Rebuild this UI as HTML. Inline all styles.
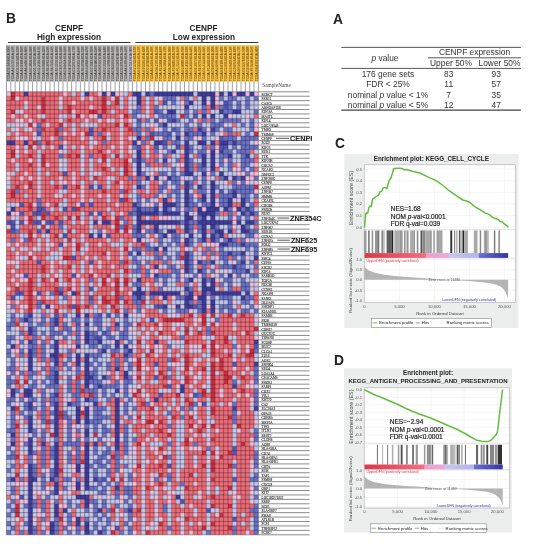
<!DOCTYPE html><html><head><meta charset="utf-8"><style>html,body{margin:0;padding:0;background:#fff;width:536px;height:550px;overflow:hidden}svg{display:block}</style></head><body>
<svg width="536" height="550" viewBox="0 0 536 550">
<defs><clipPath id="cl1"><rect x="0" y="0" width="312" height="550"/></clipPath><filter id="hb" x="-1%" y="-1%" width="102%" height="102%"><feGaussianBlur stdDeviation="0.35"/></filter><filter id="gb" x="0" y="0" width="100%" height="100%"><feGaussianBlur stdDeviation="0.4"/></filter></defs>
<g filter="url(#gb)">
<rect width="536" height="550" fill="#fff"/>
<text x="6" y="23" font-family="Liberation Sans, sans-serif" font-weight="bold" fill="#222" font-size="13.8">B</text>
<text x="69" y="30.6" font-family="Liberation Sans, sans-serif" font-weight="bold" fill="#222" font-size="8.25" text-anchor="middle">CENPF</text>
<text x="69" y="39.9" font-family="Liberation Sans, sans-serif" font-weight="bold" fill="#222" font-size="8.25" text-anchor="middle">High expression</text>
<text x="203.6" y="30.6" font-family="Liberation Sans, sans-serif" font-weight="bold" fill="#222" font-size="8.25" text-anchor="middle">CENPF</text>
<text x="204" y="39.9" font-family="Liberation Sans, sans-serif" font-weight="bold" fill="#222" font-size="8.25" text-anchor="middle">Low expression</text>
<path d="M8 42.5H130.4M135.4 42.5H258.4" stroke="#333" stroke-width="1"/>
<rect x="6.5" y="45.2" width="125.95" height="36.4" fill="#a6a6a6"/>
<rect x="132.45" y="45.2" width="125.95" height="36.4" fill="#f0b630"/>
<rect x="128.10" y="45.2" width="4.34" height="36.4" fill="#b4b0c8"/>
<g font-family="Liberation Sans, sans-serif" font-size="3.9"><text transform="translate(10.02 81.0) rotate(-90)" fill="#363636" textLength="34.5" lengthAdjust="spacingAndGlyphs">TCGA-D3-7468-01A-93R</text><text transform="translate(14.36 81.0) rotate(-90)" fill="#363636" textLength="34.5" lengthAdjust="spacingAndGlyphs">TCGA-A2-9779-01A-22R</text><text transform="translate(18.71 81.0) rotate(-90)" fill="#363636" textLength="34.5" lengthAdjust="spacingAndGlyphs">TCGA-D1-9313-01A-37R</text><text transform="translate(23.05 81.0) rotate(-90)" fill="#363636" textLength="34.5" lengthAdjust="spacingAndGlyphs">TCGA-A2-8104-01A-63R</text><text transform="translate(27.39 81.0) rotate(-90)" fill="#363636" textLength="34.5" lengthAdjust="spacingAndGlyphs">TCGA-A4-2486-01A-80R</text><text transform="translate(31.74 81.0) rotate(-90)" fill="#363636" textLength="34.5" lengthAdjust="spacingAndGlyphs">TCGA-E1-3028-01A-38R</text><text transform="translate(36.08 81.0) rotate(-90)" fill="#363636" textLength="34.5" lengthAdjust="spacingAndGlyphs">TCGA-G1-7499-01A-16R</text><text transform="translate(40.42 81.0) rotate(-90)" fill="#363636" textLength="34.5" lengthAdjust="spacingAndGlyphs">TCGA-C1-3181-01A-47R</text><text transform="translate(44.77 81.0) rotate(-90)" fill="#363636" textLength="34.5" lengthAdjust="spacingAndGlyphs">TCGA-E3-9858-01A-25R</text><text transform="translate(49.11 81.0) rotate(-90)" fill="#363636" textLength="34.5" lengthAdjust="spacingAndGlyphs">TCGA-F5-3961-01A-23R</text><text transform="translate(53.45 81.0) rotate(-90)" fill="#363636" textLength="34.5" lengthAdjust="spacingAndGlyphs">TCGA-F4-7101-01A-22R</text><text transform="translate(57.79 81.0) rotate(-90)" fill="#363636" textLength="34.5" lengthAdjust="spacingAndGlyphs">TCGA-F2-1976-01A-89R</text><text transform="translate(62.14 81.0) rotate(-90)" fill="#363636" textLength="34.5" lengthAdjust="spacingAndGlyphs">TCGA-C8-9711-01A-64R</text><text transform="translate(66.48 81.0) rotate(-90)" fill="#363636" textLength="34.5" lengthAdjust="spacingAndGlyphs">TCGA-D8-8424-01A-56R</text><text transform="translate(70.82 81.0) rotate(-90)" fill="#363636" textLength="34.5" lengthAdjust="spacingAndGlyphs">TCGA-D4-3945-01A-99R</text><text transform="translate(75.17 81.0) rotate(-90)" fill="#363636" textLength="34.5" lengthAdjust="spacingAndGlyphs">TCGA-C2-5919-01A-77R</text><text transform="translate(79.51 81.0) rotate(-90)" fill="#363636" textLength="34.5" lengthAdjust="spacingAndGlyphs">TCGA-E6-8353-01A-46R</text><text transform="translate(83.85 81.0) rotate(-90)" fill="#363636" textLength="34.5" lengthAdjust="spacingAndGlyphs">TCGA-F2-2934-01A-75R</text><text transform="translate(88.20 81.0) rotate(-90)" fill="#363636" textLength="34.5" lengthAdjust="spacingAndGlyphs">TCGA-E3-6604-01A-29R</text><text transform="translate(92.54 81.0) rotate(-90)" fill="#363636" textLength="34.5" lengthAdjust="spacingAndGlyphs">TCGA-E7-1642-01A-95R</text><text transform="translate(96.88 81.0) rotate(-90)" fill="#363636" textLength="34.5" lengthAdjust="spacingAndGlyphs">TCGA-A9-6140-01A-53R</text><text transform="translate(101.22 81.0) rotate(-90)" fill="#363636" textLength="34.5" lengthAdjust="spacingAndGlyphs">TCGA-G6-9137-01A-84R</text><text transform="translate(105.57 81.0) rotate(-90)" fill="#363636" textLength="34.5" lengthAdjust="spacingAndGlyphs">TCGA-E2-2533-01A-44R</text><text transform="translate(109.91 81.0) rotate(-90)" fill="#363636" textLength="34.5" lengthAdjust="spacingAndGlyphs">TCGA-E2-1994-01A-99R</text><text transform="translate(114.25 81.0) rotate(-90)" fill="#363636" textLength="34.5" lengthAdjust="spacingAndGlyphs">TCGA-D8-5662-01A-59R</text><text transform="translate(118.60 81.0) rotate(-90)" fill="#363636" textLength="34.5" lengthAdjust="spacingAndGlyphs">TCGA-G6-1369-01A-69R</text><text transform="translate(122.94 81.0) rotate(-90)" fill="#363636" textLength="34.5" lengthAdjust="spacingAndGlyphs">TCGA-D3-2918-01A-73R</text><text transform="translate(127.28 81.0) rotate(-90)" fill="#363636" textLength="34.5" lengthAdjust="spacingAndGlyphs">TCGA-A4-5709-01A-26R</text><text transform="translate(131.63 81.0) rotate(-90)" fill="#363636" textLength="34.5" lengthAdjust="spacingAndGlyphs">TCGA-G4-7519-01A-60R</text><text transform="translate(135.97 81.0) rotate(-90)" fill="#5a3c08" textLength="34.5" lengthAdjust="spacingAndGlyphs">TCGA-E2-3725-01A-67R</text><text transform="translate(140.31 81.0) rotate(-90)" fill="#5a3c08" textLength="34.5" lengthAdjust="spacingAndGlyphs">TCGA-E9-5552-01A-27R</text><text transform="translate(144.65 81.0) rotate(-90)" fill="#5a3c08" textLength="34.5" lengthAdjust="spacingAndGlyphs">TCGA-E9-5561-01A-63R</text><text transform="translate(149.00 81.0) rotate(-90)" fill="#5a3c08" textLength="34.5" lengthAdjust="spacingAndGlyphs">TCGA-D7-4780-01A-29R</text><text transform="translate(153.34 81.0) rotate(-90)" fill="#5a3c08" textLength="34.5" lengthAdjust="spacingAndGlyphs">TCGA-A3-3478-01A-39R</text><text transform="translate(157.68 81.0) rotate(-90)" fill="#5a3c08" textLength="34.5" lengthAdjust="spacingAndGlyphs">TCGA-G4-1197-01A-72R</text><text transform="translate(162.03 81.0) rotate(-90)" fill="#5a3c08" textLength="34.5" lengthAdjust="spacingAndGlyphs">TCGA-F3-5304-01A-46R</text><text transform="translate(166.37 81.0) rotate(-90)" fill="#5a3c08" textLength="34.5" lengthAdjust="spacingAndGlyphs">TCGA-A3-7864-01A-78R</text><text transform="translate(170.71 81.0) rotate(-90)" fill="#5a3c08" textLength="34.5" lengthAdjust="spacingAndGlyphs">TCGA-D6-3056-01A-98R</text><text transform="translate(175.06 81.0) rotate(-90)" fill="#5a3c08" textLength="34.5" lengthAdjust="spacingAndGlyphs">TCGA-F1-8481-01A-97R</text><text transform="translate(179.40 81.0) rotate(-90)" fill="#5a3c08" textLength="34.5" lengthAdjust="spacingAndGlyphs">TCGA-F7-7521-01A-61R</text><text transform="translate(183.74 81.0) rotate(-90)" fill="#5a3c08" textLength="34.5" lengthAdjust="spacingAndGlyphs">TCGA-E2-8889-01A-91R</text><text transform="translate(188.08 81.0) rotate(-90)" fill="#5a3c08" textLength="34.5" lengthAdjust="spacingAndGlyphs">TCGA-E1-4122-01A-18R</text><text transform="translate(192.43 81.0) rotate(-90)" fill="#5a3c08" textLength="34.5" lengthAdjust="spacingAndGlyphs">TCGA-C8-3659-01A-24R</text><text transform="translate(196.77 81.0) rotate(-90)" fill="#5a3c08" textLength="34.5" lengthAdjust="spacingAndGlyphs">TCGA-D1-2677-01A-10R</text><text transform="translate(201.11 81.0) rotate(-90)" fill="#5a3c08" textLength="34.5" lengthAdjust="spacingAndGlyphs">TCGA-F3-9791-01A-22R</text><text transform="translate(205.46 81.0) rotate(-90)" fill="#5a3c08" textLength="34.5" lengthAdjust="spacingAndGlyphs">TCGA-D1-2152-01A-36R</text><text transform="translate(209.80 81.0) rotate(-90)" fill="#5a3c08" textLength="34.5" lengthAdjust="spacingAndGlyphs">TCGA-F7-3433-01A-91R</text><text transform="translate(214.14 81.0) rotate(-90)" fill="#5a3c08" textLength="34.5" lengthAdjust="spacingAndGlyphs">TCGA-D6-6966-01A-70R</text><text transform="translate(218.49 81.0) rotate(-90)" fill="#5a3c08" textLength="34.5" lengthAdjust="spacingAndGlyphs">TCGA-A2-8996-01A-69R</text><text transform="translate(222.83 81.0) rotate(-90)" fill="#5a3c08" textLength="34.5" lengthAdjust="spacingAndGlyphs">TCGA-E8-6109-01A-20R</text><text transform="translate(227.17 81.0) rotate(-90)" fill="#5a3c08" textLength="34.5" lengthAdjust="spacingAndGlyphs">TCGA-C2-6613-01A-43R</text><text transform="translate(231.51 81.0) rotate(-90)" fill="#5a3c08" textLength="34.5" lengthAdjust="spacingAndGlyphs">TCGA-E3-9459-01A-12R</text><text transform="translate(235.86 81.0) rotate(-90)" fill="#5a3c08" textLength="34.5" lengthAdjust="spacingAndGlyphs">TCGA-C9-6926-01A-28R</text><text transform="translate(240.20 81.0) rotate(-90)" fill="#5a3c08" textLength="34.5" lengthAdjust="spacingAndGlyphs">TCGA-G9-1443-01A-77R</text><text transform="translate(244.54 81.0) rotate(-90)" fill="#5a3c08" textLength="34.5" lengthAdjust="spacingAndGlyphs">TCGA-D2-5278-01A-76R</text><text transform="translate(248.89 81.0) rotate(-90)" fill="#5a3c08" textLength="34.5" lengthAdjust="spacingAndGlyphs">TCGA-D3-6827-01A-38R</text><text transform="translate(253.23 81.0) rotate(-90)" fill="#5a3c08" textLength="34.5" lengthAdjust="spacingAndGlyphs">TCGA-F9-9236-01A-52R</text><text transform="translate(257.57 81.0) rotate(-90)" fill="#5a3c08" textLength="34.5" lengthAdjust="spacingAndGlyphs">TCGA-G4-4197-01A-40R</text></g>
<path d="M10.84 45.2V81.6M15.19 45.2V81.6M19.53 45.2V81.6M23.87 45.2V81.6M28.21 45.2V81.6M32.56 45.2V81.6M36.90 45.2V81.6M41.24 45.2V81.6M45.59 45.2V81.6M49.93 45.2V81.6M54.27 45.2V81.6M58.62 45.2V81.6M62.96 45.2V81.6M67.30 45.2V81.6M71.64 45.2V81.6M75.99 45.2V81.6M80.33 45.2V81.6M84.67 45.2V81.6M89.02 45.2V81.6M93.36 45.2V81.6M97.70 45.2V81.6M102.05 45.2V81.6M106.39 45.2V81.6M110.73 45.2V81.6M115.08 45.2V81.6M119.42 45.2V81.6M123.76 45.2V81.6M128.10 45.2V81.6M132.45 45.2V81.6M136.79 45.2V81.6M141.13 45.2V81.6M145.48 45.2V81.6M149.82 45.2V81.6M154.16 45.2V81.6M158.50 45.2V81.6M162.85 45.2V81.6M167.19 45.2V81.6M171.53 45.2V81.6M175.88 45.2V81.6M180.22 45.2V81.6M184.56 45.2V81.6M188.91 45.2V81.6M193.25 45.2V81.6M197.59 45.2V81.6M201.94 45.2V81.6M206.28 45.2V81.6M210.62 45.2V81.6M214.96 45.2V81.6M219.31 45.2V81.6M223.65 45.2V81.6M227.99 45.2V81.6M232.34 45.2V81.6M236.68 45.2V81.6M241.02 45.2V81.6M245.37 45.2V81.6M249.71 45.2V81.6M254.05 45.2V81.6" stroke="#f4efe6" stroke-opacity=".75" stroke-width=".6" fill="none"/>
<path d="M6.50 81.6V91.8M10.84 81.6V91.8M15.19 81.6V91.8M19.53 81.6V91.8M23.87 81.6V91.8M28.21 81.6V91.8M32.56 81.6V91.8M36.90 81.6V91.8M41.24 81.6V91.8M45.59 81.6V91.8M49.93 81.6V91.8M54.27 81.6V91.8M58.62 81.6V91.8M62.96 81.6V91.8M67.30 81.6V91.8M71.64 81.6V91.8M75.99 81.6V91.8M80.33 81.6V91.8M84.67 81.6V91.8M89.02 81.6V91.8M93.36 81.6V91.8M97.70 81.6V91.8M102.05 81.6V91.8M106.39 81.6V91.8M110.73 81.6V91.8M115.08 81.6V91.8M119.42 81.6V91.8M123.76 81.6V91.8M128.10 81.6V91.8M132.45 81.6V91.8M136.79 81.6V91.8M141.13 81.6V91.8M145.48 81.6V91.8M149.82 81.6V91.8M154.16 81.6V91.8M158.50 81.6V91.8M162.85 81.6V91.8M167.19 81.6V91.8M171.53 81.6V91.8M175.88 81.6V91.8M180.22 81.6V91.8M184.56 81.6V91.8M188.91 81.6V91.8M193.25 81.6V91.8M197.59 81.6V91.8M201.94 81.6V91.8M206.28 81.6V91.8M210.62 81.6V91.8M214.96 81.6V91.8M219.31 81.6V91.8M223.65 81.6V91.8M227.99 81.6V91.8M232.34 81.6V91.8M236.68 81.6V91.8M241.02 81.6V91.8M245.37 81.6V91.8M249.71 81.6V91.8M254.05 81.6V91.8M258.39 81.6V91.8" stroke="#8a8a8a" stroke-width=".8" fill="none"/>
<path d="M6.5 45.2V81.6M258.39 45.2V81.6" stroke="#777" stroke-width=".6"/>
<g filter="url(#hb)">
<g transform="translate(6.5 91.8) scale(4.3430 4.4300)">
<path fill="#d42a3a" d="M1 0h1v1h-1zM1 1h1v1h-1zM8 1h1v1h-1zM22 1h1v1h-1zM25 1h1v1h-1zM8 2h1v1h-1zM22 2h1v1h-1zM25 2h1v1h-1zM8 3h1v1h-1zM14 3h1v1h-1zM22 3h1v1h-1zM1 4h1v1h-1zM8 4h1v1h-1zM14 4h1v1h-1zM19 4h2v1h-2zM22 4h1v1h-1zM16 5h1v1h-1zM27 5h1v1h-1zM40 5h1v1h-1zM8 6h1v1h-1zM14 6h1v1h-1zM5 7h1v1h-1zM12 7h1v1h-1zM25 7h1v1h-1zM27 7h1v1h-1zM8 8h1v1h-1zM11 8h1v1h-1zM22 8h1v1h-1zM28 8h1v1h-1zM11 9h1v1h-1zM18 9h1v1h-1zM57 9h1v1h-1zM22 10h1v1h-1zM33 10h1v1h-1zM6 11h1v1h-1zM9 11h1v1h-1zM5 12h1v1h-1zM1 13h1v1h-1zM21 13h1v1h-1zM1 14h1v1h-1zM5 14h1v1h-1zM8 14h1v1h-1zM14 14h1v1h-1zM16 14h1v1h-1zM22 14h1v1h-1zM25 14h1v1h-1zM8 15h1v1h-1zM22 15h1v1h-1zM27 15h1v1h-1zM5 16h1v1h-1zM8 16h1v1h-1zM27 16h1v1h-1zM22 17h1v1h-1zM27 17h1v1h-1zM27 18h1v1h-1zM20 19h1v1h-1zM5 20h1v1h-1zM25 20h1v1h-1zM2 21h1v1h-1zM5 21h1v1h-1zM11 21h1v1h-1zM16 21h1v1h-1zM57 21h1v1h-1zM1 22h1v1h-1zM22 22h1v1h-1zM27 22h1v1h-1zM1 23h1v1h-1zM27 24h1v1h-1zM5 25h1v1h-1zM11 25h1v1h-1zM5 26h1v1h-1zM16 26h1v1h-1zM8 27h1v1h-1zM5 28h1v1h-1zM8 28h1v1h-1zM11 28h1v1h-1zM14 28h1v1h-1zM16 28h1v1h-1zM22 28h1v1h-1zM25 28h1v1h-1zM5 29h1v1h-1zM25 29h1v1h-1zM8 30h1v1h-1zM25 30h1v1h-1zM27 30h1v1h-1zM0 31h1v1h-1zM5 31h1v1h-1zM14 31h1v1h-1zM25 31h1v1h-1zM27 31h1v1h-1zM5 32h1v1h-1zM11 32h1v1h-1zM5 33h1v1h-1zM14 33h1v1h-1zM16 34h1v1h-1zM31 34h1v1h-1zM16 35h1v1h-1zM27 35h1v1h-1zM22 36h1v1h-1zM5 37h1v1h-1zM13 37h2v1h-2zM40 37h1v1h-1zM27 38h1v1h-1zM8 39h1v1h-1zM14 39h1v1h-1zM8 40h1v1h-1zM27 40h1v1h-1zM19 41h1v1h-1zM23 41h1v1h-1zM5 42h1v1h-1zM8 42h1v1h-1zM11 42h1v1h-1zM14 42h1v1h-1zM22 42h1v1h-1zM25 42h1v1h-1zM27 42h1v1h-1zM5 43h1v1h-1zM22 43h1v1h-1zM25 43h1v1h-1zM27 43h1v1h-1zM2 44h1v1h-1zM5 44h1v1h-1zM11 44h1v1h-1zM14 44h1v1h-1zM25 44h1v1h-1zM5 45h1v1h-1zM11 45h1v1h-1zM16 45h1v1h-1zM25 45h1v1h-1zM5 46h1v1h-1zM22 46h1v1h-1zM25 46h1v1h-1zM5 47h1v1h-1zM8 47h1v1h-1zM22 47h2v1h-2zM25 47h1v1h-1zM27 47h1v1h-1zM31 47h1v1h-1zM5 48h1v1h-1zM14 48h1v1h-1zM16 48h1v1h-1zM18 48h1v1h-1zM24 48h1v1h-1zM5 49h1v1h-1zM11 49h1v1h-1zM16 49h1v1h-1zM25 49h1v1h-1zM42 50h1v1h-1zM45 50h1v1h-1zM47 50h1v1h-1zM51 50h1v1h-1zM54 50h1v1h-1zM36 51h5v1h-5zM45 51h1v1h-1zM2 52h1v1h-1zM30 52h1v1h-1zM34 52h1v1h-1zM45 52h1v1h-1zM47 52h1v1h-1zM41 53h1v1h-1zM57 53h1v1h-1zM35 54h1v1h-1zM41 54h1v1h-1zM44 54h1v1h-1zM47 54h1v1h-1zM55 54h1v1h-1zM50 55h1v1h-1zM30 56h1v1h-1zM41 56h1v1h-1zM47 56h1v1h-1zM50 56h1v1h-1zM45 57h1v1h-1zM47 57h1v1h-1zM33 58h1v1h-1zM47 58h1v1h-1zM56 58h1v1h-1zM12 59h1v1h-1zM24 59h1v1h-1zM32 59h1v1h-1zM41 59h1v1h-1zM47 59h1v1h-1zM51 59h1v1h-1zM55 59h2v1h-2zM30 60h1v1h-1zM38 60h1v1h-1zM41 60h1v1h-1zM49 60h1v1h-1zM30 61h1v1h-1zM41 61h1v1h-1zM47 61h1v1h-1zM49 61h1v1h-1zM30 62h1v1h-1zM41 62h1v1h-1zM45 62h1v1h-1zM47 62h1v1h-1zM49 62h1v1h-1zM35 63h1v1h-1zM47 63h1v1h-1zM50 63h1v1h-1zM16 64h1v1h-1zM30 64h1v1h-1zM36 64h1v1h-1zM41 64h1v1h-1zM47 64h1v1h-1zM50 64h2v1h-2zM54 64h1v1h-1zM2 65h1v1h-1zM4 65h1v1h-1zM41 65h1v1h-1zM47 65h1v1h-1zM50 65h1v1h-1zM36 66h1v1h-1zM47 66h1v1h-1zM17 67h1v1h-1zM30 67h1v1h-1zM45 67h1v1h-1zM47 67h1v1h-1zM54 67h1v1h-1zM19 68h1v1h-1zM29 68h1v1h-1zM39 68h1v1h-1zM45 68h1v1h-1zM47 68h1v1h-1zM41 69h1v1h-1zM47 69h1v1h-1zM31 70h1v1h-1zM42 70h1v1h-1zM2 71h1v1h-1zM33 71h1v1h-1zM47 71h1v1h-1zM12 72h1v1h-1zM17 72h1v1h-1zM47 72h1v1h-1zM12 73h1v1h-1zM30 73h1v1h-1zM38 73h1v1h-1zM42 73h1v1h-1zM51 73h1v1h-1zM9 74h1v1h-1zM32 74h2v1h-2zM35 74h1v1h-1zM2 75h1v1h-1zM42 75h1v1h-1zM45 75h1v1h-1zM47 75h1v1h-1zM53 75h1v1h-1zM35 76h1v1h-1zM44 76h1v1h-1zM10 77h1v1h-1zM20 77h1v1h-1zM37 77h1v1h-1zM41 78h1v1h-1zM47 78h1v1h-1zM30 79h1v1h-1zM41 79h1v1h-1zM54 79h1v1h-1zM35 80h1v1h-1zM45 81h1v1h-1zM47 81h1v1h-1zM51 81h1v1h-1zM2 82h1v1h-1zM24 82h1v1h-1zM36 82h1v1h-1zM49 82h1v1h-1zM17 83h1v1h-1zM47 83h1v1h-1zM30 84h1v1h-1zM35 84h1v1h-1zM45 84h1v1h-1zM47 84h1v1h-1zM51 84h1v1h-1zM12 85h1v1h-1zM47 85h1v1h-1zM2 86h1v1h-1zM35 86h1v1h-1zM42 86h1v1h-1zM24 87h1v1h-1zM26 87h1v1h-1zM47 87h1v1h-1zM35 88h1v1h-1zM32 89h1v1h-1zM41 89h1v1h-1zM51 89h1v1h-1zM47 91h1v1h-1zM2 93h1v1h-1zM47 93h1v1h-1zM51 93h1v1h-1zM2 94h1v1h-1zM24 94h1v1h-1zM30 94h1v1h-1zM2 95h1v1h-1zM49 95h1v1h-1zM12 96h1v1h-1zM41 96h1v1h-1zM35 97h1v1h-1zM47 97h1v1h-1zM45 98h1v1h-1zM51 98h1v1h-1zM24 99h1v1h-1zM32 99h1v1h-1z"/>
<path fill="#f06a76" d="M2 0h2v1h-2zM5 0h8v1h-8zM14 0h1v1h-1zM16 0h1v1h-1zM19 0h2v1h-2zM28 0h1v1h-1zM0 1h1v1h-1zM3 1h5v1h-5zM9 1h3v1h-3zM13 1h4v1h-4zM18 1h1v1h-1zM20 1h2v1h-2zM23 1h1v1h-1zM27 1h1v1h-1zM31 1h1v1h-1zM33 1h1v1h-1zM40 1h1v1h-1zM43 1h1v1h-1zM0 2h4v1h-4zM5 2h3v1h-3zM9 2h3v1h-3zM13 2h2v1h-2zM16 2h6v1h-6zM24 2h1v1h-1zM27 2h1v1h-1zM31 2h1v1h-1zM33 2h1v1h-1zM35 2h1v1h-1zM0 3h4v1h-4zM5 3h2v1h-2zM9 3h3v1h-3zM13 3h1v1h-1zM15 3h4v1h-4zM20 3h2v1h-2zM23 3h3v1h-3zM27 3h1v1h-1zM31 3h1v1h-1zM33 3h1v1h-1zM46 3h1v1h-1zM48 3h1v1h-1zM0 4h1v1h-1zM4 4h4v1h-4zM9 4h5v1h-5zM16 4h3v1h-3zM21 4h1v1h-1zM23 4h1v1h-1zM25 4h3v1h-3zM31 4h1v1h-1zM33 4h1v1h-1zM44 4h1v1h-1zM46 4h1v1h-1zM0 5h1v1h-1zM2 5h2v1h-2zM5 5h2v1h-2zM9 5h3v1h-3zM14 5h1v1h-1zM18 5h1v1h-1zM22 5h4v1h-4zM28 5h1v1h-1zM33 5h1v1h-1zM57 5h1v1h-1zM0 6h2v1h-2zM4 6h1v1h-1zM6 6h2v1h-2zM9 6h3v1h-3zM13 6h1v1h-1zM15 6h3v1h-3zM19 6h2v1h-2zM22 6h1v1h-1zM25 6h1v1h-1zM27 6h1v1h-1zM31 6h1v1h-1zM44 6h1v1h-1zM46 6h1v1h-1zM8 7h1v1h-1zM10 7h2v1h-2zM14 7h1v1h-1zM16 7h1v1h-1zM21 7h4v1h-4zM28 7h1v1h-1zM52 7h1v1h-1zM0 8h1v1h-1zM3 8h1v1h-1zM6 8h1v1h-1zM9 8h2v1h-2zM13 8h2v1h-2zM16 8h3v1h-3zM20 8h2v1h-2zM23 8h3v1h-3zM27 8h1v1h-1zM31 8h1v1h-1zM33 8h1v1h-1zM43 8h1v1h-1zM1 9h1v1h-1zM3 9h3v1h-3zM8 9h3v1h-3zM12 9h1v1h-1zM14 9h1v1h-1zM16 9h1v1h-1zM20 9h1v1h-1zM22 9h1v1h-1zM24 9h2v1h-2zM27 9h3v1h-3zM32 9h1v1h-1zM50 9h1v1h-1zM52 9h2v1h-2zM0 10h2v1h-2zM5 10h1v1h-1zM8 10h2v1h-2zM11 10h1v1h-1zM13 10h4v1h-4zM18 10h1v1h-1zM20 10h2v1h-2zM24 10h2v1h-2zM27 10h1v1h-1zM31 10h1v1h-1zM2 11h2v1h-2zM5 11h1v1h-1zM8 11h1v1h-1zM10 11h3v1h-3zM14 11h5v1h-5zM21 11h1v1h-1zM23 11h3v1h-3zM27 11h2v1h-2zM32 11h1v1h-1zM37 11h1v1h-1zM48 11h1v1h-1zM0 12h2v1h-2zM3 12h1v1h-1zM7 12h1v1h-1zM9 12h1v1h-1zM11 12h1v1h-1zM14 12h1v1h-1zM16 12h1v1h-1zM18 12h1v1h-1zM20 12h4v1h-4zM25 12h1v1h-1zM27 12h1v1h-1zM31 12h1v1h-1zM33 12h1v1h-1zM40 12h1v1h-1zM46 12h1v1h-1zM0 13h1v1h-1zM3 13h1v1h-1zM5 13h2v1h-2zM8 13h4v1h-4zM14 13h3v1h-3zM18 13h3v1h-3zM22 13h1v1h-1zM24 13h2v1h-2zM27 13h1v1h-1zM31 13h1v1h-1zM33 13h1v1h-1zM56 13h1v1h-1zM0 14h1v1h-1zM3 14h2v1h-2zM6 14h1v1h-1zM9 14h3v1h-3zM13 14h1v1h-1zM15 14h1v1h-1zM18 14h1v1h-1zM20 14h2v1h-2zM23 14h1v1h-1zM27 14h2v1h-2zM31 14h1v1h-1zM33 14h2v1h-2zM37 14h1v1h-1zM40 14h1v1h-1zM43 14h1v1h-1zM57 14h1v1h-1zM0 15h1v1h-1zM2 15h3v1h-3zM6 15h1v1h-1zM9 15h3v1h-3zM14 15h3v1h-3zM18 15h1v1h-1zM20 15h1v1h-1zM24 15h3v1h-3zM32 15h2v1h-2zM40 15h1v1h-1zM57 15h1v1h-1zM0 16h2v1h-2zM3 16h2v1h-2zM6 16h1v1h-1zM10 16h2v1h-2zM14 16h3v1h-3zM18 16h1v1h-1zM20 16h3v1h-3zM24 16h3v1h-3zM28 16h1v1h-1zM33 16h3v1h-3zM37 16h1v1h-1zM43 16h1v1h-1zM52 16h1v1h-1zM0 17h2v1h-2zM3 17h4v1h-4zM8 17h4v1h-4zM14 17h3v1h-3zM18 17h1v1h-1zM20 17h2v1h-2zM23 17h1v1h-1zM25 17h1v1h-1zM28 17h1v1h-1zM40 17h1v1h-1zM43 17h1v1h-1zM48 17h1v1h-1zM57 17h1v1h-1zM2 18h2v1h-2zM5 18h2v1h-2zM8 18h1v1h-1zM10 18h3v1h-3zM14 18h1v1h-1zM16 18h1v1h-1zM18 18h1v1h-1zM22 18h4v1h-4zM28 18h1v1h-1zM34 18h1v1h-1zM1 19h2v1h-2zM4 19h1v1h-1zM6 19h1v1h-1zM8 19h4v1h-4zM13 19h2v1h-2zM16 19h3v1h-3zM21 19h2v1h-2zM25 19h3v1h-3zM29 19h1v1h-1zM31 19h1v1h-1zM48 19h1v1h-1zM1 20h4v1h-4zM6 20h1v1h-1zM8 20h2v1h-2zM11 20h1v1h-1zM14 20h1v1h-1zM16 20h1v1h-1zM18 20h2v1h-2zM21 20h2v1h-2zM24 20h1v1h-1zM27 20h3v1h-3zM33 20h2v1h-2zM43 20h1v1h-1zM51 20h1v1h-1zM1 21h1v1h-1zM3 21h1v1h-1zM6 21h1v1h-1zM8 21h3v1h-3zM12 21h1v1h-1zM14 21h2v1h-2zM18 21h1v1h-1zM22 21h1v1h-1zM24 21h2v1h-2zM27 21h2v1h-2zM33 21h2v1h-2zM40 21h1v1h-1zM0 22h1v1h-1zM3 22h4v1h-4zM8 22h4v1h-4zM14 22h3v1h-3zM18 22h4v1h-4zM23 22h3v1h-3zM28 22h1v1h-1zM30 22h2v1h-2zM33 22h2v1h-2zM37 22h1v1h-1zM43 22h1v1h-1zM0 23h1v1h-1zM2 23h2v1h-2zM5 23h2v1h-2zM8 23h3v1h-3zM13 23h2v1h-2zM16 23h1v1h-1zM18 23h3v1h-3zM22 23h1v1h-1zM24 23h2v1h-2zM27 23h1v1h-1zM31 23h3v1h-3zM44 23h1v1h-1zM48 23h1v1h-1zM0 24h7v1h-7zM8 24h5v1h-5zM14 24h3v1h-3zM18 24h1v1h-1zM20 24h3v1h-3zM24 24h2v1h-2zM28 24h1v1h-1zM35 24h1v1h-1zM37 24h1v1h-1zM57 24h1v1h-1zM4 25h1v1h-1zM8 25h1v1h-1zM10 25h1v1h-1zM14 25h2v1h-2zM18 25h1v1h-1zM20 25h5v1h-5zM26 25h3v1h-3zM52 25h2v1h-2zM57 25h1v1h-1zM2 26h3v1h-3zM6 26h1v1h-1zM9 26h1v1h-1zM11 26h1v1h-1zM14 26h1v1h-1zM17 26h6v1h-6zM24 26h5v1h-5zM43 26h1v1h-1zM4 27h2v1h-2zM10 27h7v1h-7zM18 27h1v1h-1zM22 27h2v1h-2zM25 27h1v1h-1zM27 27h1v1h-1zM49 27h2v1h-2zM52 27h1v1h-1zM0 28h1v1h-1zM3 28h1v1h-1zM6 28h1v1h-1zM9 28h2v1h-2zM12 28h1v1h-1zM18 28h1v1h-1zM20 28h1v1h-1zM23 28h1v1h-1zM27 28h2v1h-2zM31 28h1v1h-1zM33 28h2v1h-2zM57 28h1v1h-1zM11 29h1v1h-1zM13 29h2v1h-2zM16 29h1v1h-1zM18 29h1v1h-1zM24 29h1v1h-1zM28 29h1v1h-1zM3 30h4v1h-4zM10 30h2v1h-2zM14 30h5v1h-5zM20 30h4v1h-4zM28 30h1v1h-1zM31 30h1v1h-1zM33 30h1v1h-1zM39 30h1v1h-1zM43 30h1v1h-1zM57 30h1v1h-1zM3 31h2v1h-2zM6 31h1v1h-1zM8 31h1v1h-1zM10 31h3v1h-3zM16 31h3v1h-3zM23 31h2v1h-2zM39 31h2v1h-2zM46 31h1v1h-1zM52 31h1v1h-1zM0 32h3v1h-3zM7 32h1v1h-1zM10 32h1v1h-1zM14 32h3v1h-3zM18 32h1v1h-1zM24 32h5v1h-5zM33 32h1v1h-1zM50 32h1v1h-1zM0 33h1v1h-1zM2 33h1v1h-1zM6 33h1v1h-1zM8 33h1v1h-1zM10 33h3v1h-3zM16 33h1v1h-1zM18 33h5v1h-5zM24 33h2v1h-2zM27 33h2v1h-2zM34 33h1v1h-1zM46 33h1v1h-1zM53 33h1v1h-1zM1 34h1v1h-1zM3 34h4v1h-4zM8 34h1v1h-1zM11 34h1v1h-1zM14 34h1v1h-1zM17 34h1v1h-1zM19 34h2v1h-2zM22 34h2v1h-2zM27 34h1v1h-1zM29 34h2v1h-2zM40 34h1v1h-1zM44 34h1v1h-1zM0 35h1v1h-1zM2 35h1v1h-1zM5 35h1v1h-1zM8 35h1v1h-1zM10 35h2v1h-2zM13 35h2v1h-2zM19 35h7v1h-7zM31 35h1v1h-1zM40 35h1v1h-1zM43 35h1v1h-1zM45 35h1v1h-1zM47 35h1v1h-1zM0 36h2v1h-2zM3 36h2v1h-2zM6 36h4v1h-4zM13 36h2v1h-2zM16 36h1v1h-1zM18 36h4v1h-4zM24 36h2v1h-2zM27 36h1v1h-1zM32 36h2v1h-2zM35 36h1v1h-1zM40 36h1v1h-1zM46 36h1v1h-1zM48 36h1v1h-1zM0 37h2v1h-2zM7 37h2v1h-2zM16 37h2v1h-2zM19 37h1v1h-1zM21 37h2v1h-2zM24 37h2v1h-2zM27 37h1v1h-1zM46 37h1v1h-1zM51 37h1v1h-1zM3 38h4v1h-4zM8 38h2v1h-2zM11 38h1v1h-1zM14 38h3v1h-3zM18 38h1v1h-1zM20 38h1v1h-1zM22 38h4v1h-4zM28 38h1v1h-1zM33 38h3v1h-3zM37 38h1v1h-1zM57 38h1v1h-1zM0 39h2v1h-2zM3 39h5v1h-5zM9 39h1v1h-1zM11 39h3v1h-3zM16 39h1v1h-1zM18 39h1v1h-1zM20 39h1v1h-1zM22 39h2v1h-2zM25 39h3v1h-3zM31 39h1v1h-1zM33 39h1v1h-1zM40 39h1v1h-1zM44 39h1v1h-1zM46 39h1v1h-1zM48 39h1v1h-1zM0 40h1v1h-1zM2 40h6v1h-6zM9 40h1v1h-1zM11 40h1v1h-1zM13 40h2v1h-2zM16 40h1v1h-1zM18 40h1v1h-1zM20 40h6v1h-6zM28 40h1v1h-1zM31 40h1v1h-1zM35 40h3v1h-3zM57 40h1v1h-1zM0 41h2v1h-2zM5 41h2v1h-2zM8 41h1v1h-1zM10 41h1v1h-1zM13 41h2v1h-2zM17 41h2v1h-2zM21 41h2v1h-2zM25 41h1v1h-1zM27 41h1v1h-1zM31 41h1v1h-1zM46 41h1v1h-1zM0 42h1v1h-1zM2 42h1v1h-1zM6 42h1v1h-1zM9 42h1v1h-1zM13 42h1v1h-1zM16 42h1v1h-1zM18 42h1v1h-1zM20 42h1v1h-1zM24 42h1v1h-1zM28 42h1v1h-1zM31 42h3v1h-3zM0 43h2v1h-2zM3 43h2v1h-2zM6 43h1v1h-1zM8 43h4v1h-4zM14 43h1v1h-1zM16 43h1v1h-1zM18 43h1v1h-1zM20 43h1v1h-1zM23 43h1v1h-1zM31 43h1v1h-1zM33 43h1v1h-1zM39 43h2v1h-2zM43 43h1v1h-1zM48 43h1v1h-1zM1 44h1v1h-1zM3 44h2v1h-2zM6 44h5v1h-5zM13 44h1v1h-1zM16 44h1v1h-1zM18 44h1v1h-1zM21 44h4v1h-4zM27 44h2v1h-2zM33 44h2v1h-2zM43 44h1v1h-1zM49 44h1v1h-1zM52 44h2v1h-2zM0 45h2v1h-2zM4 45h1v1h-1zM8 45h1v1h-1zM13 45h1v1h-1zM18 45h1v1h-1zM20 45h4v1h-4zM26 45h2v1h-2zM32 45h1v1h-1zM43 45h2v1h-2zM57 45h1v1h-1zM0 46h1v1h-1zM4 46h1v1h-1zM6 46h1v1h-1zM8 46h1v1h-1zM11 46h1v1h-1zM14 46h1v1h-1zM16 46h1v1h-1zM18 46h1v1h-1zM20 46h1v1h-1zM23 46h2v1h-2zM27 46h2v1h-2zM34 46h1v1h-1zM37 46h1v1h-1zM57 46h1v1h-1zM1 47h1v1h-1zM3 47h2v1h-2zM6 47h1v1h-1zM9 47h3v1h-3zM14 47h1v1h-1zM16 47h1v1h-1zM18 47h1v1h-1zM20 47h1v1h-1zM24 47h1v1h-1zM28 47h1v1h-1zM33 47h3v1h-3zM37 47h1v1h-1zM43 47h1v1h-1zM57 47h1v1h-1zM2 48h1v1h-1zM6 48h1v1h-1zM11 48h3v1h-3zM17 48h1v1h-1zM19 48h1v1h-1zM21 48h2v1h-2zM25 48h1v1h-1zM27 48h3v1h-3zM31 48h1v1h-1zM53 48h1v1h-1zM2 49h1v1h-1zM4 49h1v1h-1zM8 49h1v1h-1zM14 49h1v1h-1zM22 49h1v1h-1zM24 49h1v1h-1zM28 49h1v1h-1zM32 49h3v1h-3zM46 49h1v1h-1zM9 50h1v1h-1zM12 50h1v1h-1zM19 50h1v1h-1zM32 50h5v1h-5zM40 50h2v1h-2zM44 50h1v1h-1zM49 50h2v1h-2zM53 50h1v1h-1zM55 50h2v1h-2zM2 51h1v1h-1zM12 51h1v1h-1zM24 51h1v1h-1zM31 51h1v1h-1zM35 51h1v1h-1zM41 51h2v1h-2zM49 51h8v1h-8zM9 52h1v1h-1zM12 52h1v1h-1zM15 52h1v1h-1zM24 52h1v1h-1zM31 52h3v1h-3zM36 52h2v1h-2zM41 52h2v1h-2zM44 52h1v1h-1zM49 52h3v1h-3zM53 52h4v1h-4zM3 53h1v1h-1zM12 53h1v1h-1zM24 53h1v1h-1zM30 53h1v1h-1zM32 53h1v1h-1zM34 53h1v1h-1zM36 53h2v1h-2zM39 53h1v1h-1zM43 53h1v1h-1zM45 53h1v1h-1zM47 53h5v1h-5zM53 53h4v1h-4zM4 54h1v1h-1zM15 54h1v1h-1zM31 54h1v1h-1zM33 54h1v1h-1zM36 54h3v1h-3zM43 54h1v1h-1zM45 54h1v1h-1zM48 54h6v1h-6zM56 54h1v1h-1zM4 55h2v1h-2zM7 55h1v1h-1zM9 55h1v1h-1zM30 55h1v1h-1zM33 55h2v1h-2zM38 55h2v1h-2zM41 55h4v1h-4zM48 55h2v1h-2zM53 55h4v1h-4zM9 56h1v1h-1zM12 56h2v1h-2zM15 56h1v1h-1zM26 56h1v1h-1zM32 56h2v1h-2zM35 56h2v1h-2zM42 56h4v1h-4zM48 56h2v1h-2zM51 56h1v1h-1zM53 56h4v1h-4zM2 57h1v1h-1zM7 57h1v1h-1zM30 57h1v1h-1zM33 57h1v1h-1zM36 57h1v1h-1zM41 57h1v1h-1zM49 57h3v1h-3zM54 57h1v1h-1zM56 57h1v1h-1zM7 58h1v1h-1zM15 58h1v1h-1zM30 58h2v1h-2zM36 58h1v1h-1zM38 58h2v1h-2zM41 58h1v1h-1zM45 58h1v1h-1zM48 58h2v1h-2zM51 58h1v1h-1zM54 58h1v1h-1zM2 59h1v1h-1zM4 59h1v1h-1zM7 59h1v1h-1zM13 59h1v1h-1zM25 59h2v1h-2zM29 59h2v1h-2zM33 59h1v1h-1zM35 59h2v1h-2zM38 59h1v1h-1zM40 59h1v1h-1zM42 59h3v1h-3zM48 59h3v1h-3zM53 59h2v1h-2zM7 60h1v1h-1zM9 60h1v1h-1zM12 60h1v1h-1zM17 60h1v1h-1zM24 60h1v1h-1zM26 60h1v1h-1zM32 60h5v1h-5zM39 60h1v1h-1zM42 60h1v1h-1zM45 60h1v1h-1zM47 60h1v1h-1zM50 60h2v1h-2zM53 60h1v1h-1zM55 60h2v1h-2zM9 61h1v1h-1zM12 61h1v1h-1zM15 61h1v1h-1zM24 61h1v1h-1zM26 61h1v1h-1zM29 61h1v1h-1zM32 61h2v1h-2zM35 61h2v1h-2zM42 61h1v1h-1zM44 61h2v1h-2zM48 61h1v1h-1zM50 61h2v1h-2zM53 61h4v1h-4zM2 62h1v1h-1zM9 62h1v1h-1zM12 62h1v1h-1zM24 62h1v1h-1zM26 62h1v1h-1zM33 62h1v1h-1zM35 62h2v1h-2zM38 62h1v1h-1zM43 62h2v1h-2zM48 62h1v1h-1zM50 62h2v1h-2zM53 62h2v1h-2zM56 62h1v1h-1zM4 63h1v1h-1zM7 63h1v1h-1zM9 63h1v1h-1zM17 63h1v1h-1zM24 63h1v1h-1zM26 63h1v1h-1zM30 63h1v1h-1zM32 63h2v1h-2zM36 63h1v1h-1zM38 63h1v1h-1zM40 63h2v1h-2zM43 63h1v1h-1zM45 63h1v1h-1zM49 63h1v1h-1zM51 63h3v1h-3zM55 63h1v1h-1zM2 64h1v1h-1zM4 64h1v1h-1zM12 64h1v1h-1zM17 64h1v1h-1zM24 64h1v1h-1zM26 64h1v1h-1zM32 64h2v1h-2zM35 64h1v1h-1zM38 64h1v1h-1zM42 64h1v1h-1zM45 64h1v1h-1zM48 64h2v1h-2zM53 64h1v1h-1zM55 64h2v1h-2zM15 65h1v1h-1zM24 65h1v1h-1zM30 65h1v1h-1zM32 65h1v1h-1zM35 65h2v1h-2zM38 65h2v1h-2zM42 65h1v1h-1zM44 65h2v1h-2zM48 65h2v1h-2zM51 65h1v1h-1zM54 65h2v1h-2zM2 66h2v1h-2zM12 66h1v1h-1zM15 66h1v1h-1zM17 66h1v1h-1zM31 66h5v1h-5zM38 66h1v1h-1zM41 66h1v1h-1zM43 66h2v1h-2zM48 66h4v1h-4zM53 66h2v1h-2zM7 67h1v1h-1zM12 67h1v1h-1zM15 67h1v1h-1zM32 67h3v1h-3zM38 67h1v1h-1zM41 67h2v1h-2zM44 67h1v1h-1zM48 67h1v1h-1zM50 67h2v1h-2zM53 67h1v1h-1zM55 67h2v1h-2zM3 68h1v1h-1zM12 68h1v1h-1zM17 68h2v1h-2zM30 68h1v1h-1zM33 68h2v1h-2zM36 68h3v1h-3zM41 68h1v1h-1zM46 68h1v1h-1zM48 68h1v1h-1zM50 68h3v1h-3zM54 68h1v1h-1zM56 68h1v1h-1zM9 69h1v1h-1zM12 69h1v1h-1zM15 69h1v1h-1zM24 69h1v1h-1zM26 69h1v1h-1zM30 69h2v1h-2zM33 69h1v1h-1zM35 69h3v1h-3zM39 69h1v1h-1zM42 69h1v1h-1zM44 69h2v1h-2zM48 69h4v1h-4zM53 69h3v1h-3zM12 70h1v1h-1zM21 70h1v1h-1zM23 70h2v1h-2zM30 70h1v1h-1zM34 70h2v1h-2zM37 70h1v1h-1zM39 70h1v1h-1zM41 70h1v1h-1zM47 70h2v1h-2zM50 70h1v1h-1zM53 70h3v1h-3zM9 71h1v1h-1zM12 71h1v1h-1zM24 71h1v1h-1zM30 71h3v1h-3zM35 71h2v1h-2zM38 71h1v1h-1zM41 71h1v1h-1zM44 71h2v1h-2zM48 71h4v1h-4zM53 71h3v1h-3zM2 72h1v1h-1zM7 72h1v1h-1zM9 72h1v1h-1zM24 72h1v1h-1zM30 72h1v1h-1zM32 72h2v1h-2zM35 72h1v1h-1zM38 72h2v1h-2zM41 72h1v1h-1zM44 72h2v1h-2zM48 72h4v1h-4zM54 72h3v1h-3zM7 73h1v1h-1zM9 73h1v1h-1zM17 73h1v1h-1zM24 73h1v1h-1zM26 73h1v1h-1zM32 73h5v1h-5zM39 73h1v1h-1zM41 73h1v1h-1zM44 73h2v1h-2zM47 73h4v1h-4zM53 73h4v1h-4zM2 74h1v1h-1zM4 74h1v1h-1zM12 74h1v1h-1zM15 74h1v1h-1zM24 74h1v1h-1zM27 74h2v1h-2zM30 74h1v1h-1zM36 74h1v1h-1zM38 74h1v1h-1zM41 74h3v1h-3zM45 74h1v1h-1zM48 74h4v1h-4zM53 74h4v1h-4zM9 75h1v1h-1zM12 75h1v1h-1zM26 75h1v1h-1zM29 75h4v1h-4zM34 75h3v1h-3zM38 75h1v1h-1zM41 75h1v1h-1zM44 75h1v1h-1zM48 75h4v1h-4zM54 75h3v1h-3zM2 76h1v1h-1zM9 76h1v1h-1zM12 76h1v1h-1zM24 76h1v1h-1zM26 76h1v1h-1zM29 76h2v1h-2zM32 76h3v1h-3zM36 76h1v1h-1zM38 76h1v1h-1zM41 76h1v1h-1zM43 76h1v1h-1zM45 76h1v1h-1zM47 76h1v1h-1zM49 76h3v1h-3zM54 76h2v1h-2zM2 77h1v1h-1zM12 77h1v1h-1zM16 77h1v1h-1zM24 77h1v1h-1zM30 77h3v1h-3zM34 77h3v1h-3zM38 77h1v1h-1zM41 77h2v1h-2zM44 77h1v1h-1zM47 77h5v1h-5zM53 77h4v1h-4zM2 78h1v1h-1zM7 78h1v1h-1zM12 78h1v1h-1zM30 78h2v1h-2zM33 78h1v1h-1zM35 78h2v1h-2zM38 78h1v1h-1zM43 78h3v1h-3zM48 78h4v1h-4zM53 78h3v1h-3zM2 79h1v1h-1zM7 79h1v1h-1zM9 79h1v1h-1zM12 79h1v1h-1zM17 79h1v1h-1zM19 79h1v1h-1zM21 79h1v1h-1zM24 79h1v1h-1zM26 79h1v1h-1zM29 79h1v1h-1zM32 79h1v1h-1zM36 79h1v1h-1zM38 79h1v1h-1zM40 79h1v1h-1zM42 79h1v1h-1zM44 79h2v1h-2zM47 79h5v1h-5zM53 79h1v1h-1zM55 79h1v1h-1zM2 80h1v1h-1zM9 80h1v1h-1zM12 80h1v1h-1zM15 80h1v1h-1zM26 80h1v1h-1zM30 80h1v1h-1zM32 80h1v1h-1zM36 80h1v1h-1zM38 80h1v1h-1zM41 80h1v1h-1zM45 80h1v1h-1zM47 80h1v1h-1zM49 80h3v1h-3zM53 80h4v1h-4zM2 81h1v1h-1zM7 81h1v1h-1zM9 81h1v1h-1zM12 81h1v1h-1zM17 81h1v1h-1zM24 81h1v1h-1zM26 81h1v1h-1zM30 81h1v1h-1zM32 81h2v1h-2zM35 81h1v1h-1zM38 81h1v1h-1zM41 81h4v1h-4zM49 81h2v1h-2zM53 81h4v1h-4zM4 82h1v1h-1zM7 82h1v1h-1zM9 82h1v1h-1zM12 82h1v1h-1zM15 82h1v1h-1zM17 82h1v1h-1zM26 82h1v1h-1zM30 82h1v1h-1zM32 82h3v1h-3zM38 82h1v1h-1zM41 82h2v1h-2zM44 82h2v1h-2zM47 82h1v1h-1zM50 82h7v1h-7zM2 83h1v1h-1zM4 83h1v1h-1zM7 83h1v1h-1zM9 83h1v1h-1zM12 83h1v1h-1zM15 83h1v1h-1zM24 83h1v1h-1zM30 83h1v1h-1zM33 83h1v1h-1zM35 83h2v1h-2zM38 83h1v1h-1zM41 83h2v1h-2zM44 83h2v1h-2zM48 83h4v1h-4zM53 83h3v1h-3zM2 84h2v1h-2zM7 84h1v1h-1zM9 84h1v1h-1zM12 84h1v1h-1zM24 84h1v1h-1zM26 84h1v1h-1zM32 84h3v1h-3zM36 84h1v1h-1zM38 84h1v1h-1zM41 84h2v1h-2zM44 84h1v1h-1zM48 84h3v1h-3zM53 84h3v1h-3zM2 85h1v1h-1zM7 85h1v1h-1zM24 85h1v1h-1zM29 85h2v1h-2zM32 85h5v1h-5zM38 85h1v1h-1zM40 85h6v1h-6zM48 85h4v1h-4zM53 85h3v1h-3zM7 86h1v1h-1zM12 86h1v1h-1zM15 86h2v1h-2zM24 86h1v1h-1zM26 86h1v1h-1zM30 86h1v1h-1zM32 86h1v1h-1zM36 86h1v1h-1zM38 86h1v1h-1zM40 86h2v1h-2zM44 86h2v1h-2zM47 86h5v1h-5zM53 86h3v1h-3zM2 87h1v1h-1zM4 87h1v1h-1zM12 87h1v1h-1zM17 87h1v1h-1zM29 87h2v1h-2zM32 87h1v1h-1zM35 87h1v1h-1zM38 87h1v1h-1zM40 87h6v1h-6zM48 87h4v1h-4zM53 87h3v1h-3zM9 88h2v1h-2zM12 88h1v1h-1zM26 88h1v1h-1zM30 88h1v1h-1zM32 88h1v1h-1zM34 88h1v1h-1zM36 88h1v1h-1zM38 88h2v1h-2zM41 88h2v1h-2zM44 88h2v1h-2zM47 88h5v1h-5zM53 88h3v1h-3zM2 89h1v1h-1zM12 89h1v1h-1zM24 89h1v1h-1zM26 89h1v1h-1zM29 89h2v1h-2zM33 89h1v1h-1zM35 89h1v1h-1zM38 89h1v1h-1zM42 89h4v1h-4zM47 89h1v1h-1zM49 89h2v1h-2zM53 89h3v1h-3zM2 90h1v1h-1zM15 90h2v1h-2zM24 90h1v1h-1zM26 90h1v1h-1zM29 90h2v1h-2zM32 90h1v1h-1zM35 90h2v1h-2zM41 90h3v1h-3zM45 90h1v1h-1zM47 90h1v1h-1zM49 90h2v1h-2zM53 90h3v1h-3zM0 91h1v1h-1zM7 91h1v1h-1zM12 91h1v1h-1zM19 91h1v1h-1zM30 91h1v1h-1zM32 91h1v1h-1zM35 91h1v1h-1zM38 91h1v1h-1zM41 91h2v1h-2zM45 91h2v1h-2zM48 91h4v1h-4zM54 91h2v1h-2zM2 92h1v1h-1zM7 92h1v1h-1zM9 92h1v1h-1zM12 92h1v1h-1zM17 92h1v1h-1zM29 92h2v1h-2zM32 92h2v1h-2zM35 92h2v1h-2zM38 92h1v1h-1zM41 92h5v1h-5zM47 92h5v1h-5zM53 92h3v1h-3zM7 93h1v1h-1zM9 93h1v1h-1zM17 93h1v1h-1zM24 93h1v1h-1zM30 93h1v1h-1zM32 93h2v1h-2zM35 93h1v1h-1zM38 93h2v1h-2zM41 93h1v1h-1zM43 93h3v1h-3zM48 93h3v1h-3zM53 93h4v1h-4zM9 94h1v1h-1zM12 94h1v1h-1zM15 94h1v1h-1zM22 94h1v1h-1zM26 94h1v1h-1zM29 94h1v1h-1zM32 94h2v1h-2zM35 94h1v1h-1zM38 94h5v1h-5zM44 94h2v1h-2zM49 94h3v1h-3zM53 94h3v1h-3zM9 95h1v1h-1zM12 95h1v1h-1zM15 95h1v1h-1zM24 95h1v1h-1zM29 95h2v1h-2zM32 95h2v1h-2zM35 95h2v1h-2zM38 95h2v1h-2zM41 95h2v1h-2zM44 95h2v1h-2zM47 95h1v1h-1zM50 95h2v1h-2zM53 95h1v1h-1zM55 95h2v1h-2zM3 96h1v1h-1zM7 96h1v1h-1zM9 96h1v1h-1zM17 96h1v1h-1zM24 96h1v1h-1zM26 96h1v1h-1zM30 96h1v1h-1zM32 96h2v1h-2zM36 96h1v1h-1zM38 96h1v1h-1zM42 96h4v1h-4zM47 96h5v1h-5zM53 96h3v1h-3zM2 97h1v1h-1zM7 97h1v1h-1zM12 97h1v1h-1zM15 97h1v1h-1zM26 97h1v1h-1zM29 97h2v1h-2zM32 97h1v1h-1zM36 97h1v1h-1zM38 97h2v1h-2zM41 97h1v1h-1zM43 97h1v1h-1zM45 97h1v1h-1zM48 97h4v1h-4zM53 97h1v1h-1zM55 97h1v1h-1zM2 98h1v1h-1zM7 98h1v1h-1zM9 98h1v1h-1zM12 98h1v1h-1zM17 98h1v1h-1zM26 98h1v1h-1zM29 98h2v1h-2zM35 98h2v1h-2zM38 98h2v1h-2zM41 98h4v1h-4zM47 98h4v1h-4zM53 98h3v1h-3zM2 99h1v1h-1zM4 99h1v1h-1zM7 99h1v1h-1zM12 99h1v1h-1zM25 99h1v1h-1zM30 99h1v1h-1zM33 99h4v1h-4zM38 99h2v1h-2zM41 99h1v1h-1zM43 99h2v1h-2zM47 99h5v1h-5zM53 99h2v1h-2zM56 99h1v1h-1z"/>
<path fill="#f1bcd8" d="M0 0h1v1h-1zM13 0h1v1h-1zM21 0h1v1h-1zM23 0h1v1h-1zM25 0h2v1h-2zM48 0h1v1h-1zM52 0h1v1h-1zM55 0h1v1h-1zM57 0h1v1h-1zM2 1h1v1h-1zM12 1h1v1h-1zM17 1h1v1h-1zM19 1h1v1h-1zM24 1h1v1h-1zM28 1h1v1h-1zM35 1h1v1h-1zM48 1h1v1h-1zM4 2h1v1h-1zM12 2h1v1h-1zM15 2h1v1h-1zM40 2h1v1h-1zM46 2h1v1h-1zM48 2h1v1h-1zM7 3h1v1h-1zM19 3h1v1h-1zM28 3h1v1h-1zM32 3h1v1h-1zM40 3h1v1h-1zM3 4h1v1h-1zM15 4h1v1h-1zM1 5h1v1h-1zM4 5h1v1h-1zM7 5h1v1h-1zM17 5h1v1h-1zM19 5h2v1h-2zM26 5h1v1h-1zM32 5h1v1h-1zM51 5h1v1h-1zM55 5h1v1h-1zM2 6h2v1h-2zM5 6h1v1h-1zM12 6h1v1h-1zM18 6h1v1h-1zM21 6h1v1h-1zM23 6h1v1h-1zM26 6h1v1h-1zM28 6h1v1h-1zM35 6h1v1h-1zM43 6h1v1h-1zM2 7h1v1h-1zM4 7h1v1h-1zM6 7h1v1h-1zM9 7h1v1h-1zM18 7h1v1h-1zM26 7h1v1h-1zM33 7h1v1h-1zM50 7h1v1h-1zM57 7h1v1h-1zM2 8h1v1h-1zM5 8h1v1h-1zM34 8h1v1h-1zM46 8h1v1h-1zM57 8h1v1h-1zM2 9h1v1h-1zM6 9h1v1h-1zM13 9h1v1h-1zM15 9h1v1h-1zM17 9h1v1h-1zM23 9h1v1h-1zM26 9h1v1h-1zM40 9h1v1h-1zM49 9h1v1h-1zM2 10h3v1h-3zM6 10h1v1h-1zM10 10h1v1h-1zM17 10h1v1h-1zM26 10h1v1h-1zM28 10h1v1h-1zM35 10h1v1h-1zM43 10h2v1h-2zM48 10h1v1h-1zM13 11h1v1h-1zM20 11h1v1h-1zM26 11h1v1h-1zM30 11h1v1h-1zM57 11h1v1h-1zM2 12h1v1h-1zM6 12h1v1h-1zM10 12h1v1h-1zM17 12h1v1h-1zM19 12h1v1h-1zM24 12h1v1h-1zM26 12h1v1h-1zM28 12h1v1h-1zM32 12h1v1h-1zM48 12h1v1h-1zM2 13h1v1h-1zM4 13h1v1h-1zM12 13h1v1h-1zM23 13h1v1h-1zM26 13h1v1h-1zM28 13h1v1h-1zM35 13h1v1h-1zM40 13h1v1h-1zM46 13h1v1h-1zM48 13h1v1h-1zM35 14h1v1h-1zM1 15h1v1h-1zM5 15h1v1h-1zM28 15h1v1h-1zM50 15h1v1h-1zM7 16h1v1h-1zM9 16h1v1h-1zM12 16h1v1h-1zM17 16h1v1h-1zM23 16h1v1h-1zM39 16h2v1h-2zM48 16h1v1h-1zM53 16h1v1h-1zM57 16h1v1h-1zM31 17h1v1h-1zM34 17h1v1h-1zM52 17h2v1h-2zM0 18h1v1h-1zM4 18h1v1h-1zM15 18h1v1h-1zM20 18h1v1h-1zM29 18h1v1h-1zM33 18h1v1h-1zM46 18h1v1h-1zM53 18h2v1h-2zM56 18h2v1h-2zM0 19h1v1h-1zM3 19h1v1h-1zM5 19h1v1h-1zM7 19h1v1h-1zM12 19h1v1h-1zM15 19h1v1h-1zM23 19h1v1h-1zM33 19h1v1h-1zM36 19h1v1h-1zM40 19h1v1h-1zM44 19h1v1h-1zM46 19h1v1h-1zM55 19h2v1h-2zM12 20h2v1h-2zM15 20h1v1h-1zM26 20h1v1h-1zM35 20h1v1h-1zM50 20h1v1h-1zM53 20h1v1h-1zM55 20h1v1h-1zM57 20h1v1h-1zM4 21h1v1h-1zM7 21h1v1h-1zM17 21h1v1h-1zM26 21h1v1h-1zM32 21h1v1h-1zM37 21h1v1h-1zM17 22h1v1h-1zM57 22h1v1h-1zM7 23h1v1h-1zM11 23h2v1h-2zM15 23h1v1h-1zM17 23h1v1h-1zM21 23h1v1h-1zM23 23h1v1h-1zM26 23h1v1h-1zM35 23h1v1h-1zM43 23h1v1h-1zM53 23h1v1h-1zM17 24h1v1h-1zM31 24h1v1h-1zM34 24h1v1h-1zM38 24h1v1h-1zM2 25h1v1h-1zM6 25h1v1h-1zM9 25h1v1h-1zM16 25h1v1h-1zM25 25h1v1h-1zM32 25h2v1h-2zM35 25h1v1h-1zM48 25h1v1h-1zM0 26h1v1h-1zM40 26h1v1h-1zM45 26h1v1h-1zM52 26h1v1h-1zM1 27h2v1h-2zM20 27h1v1h-1zM26 27h1v1h-1zM1 28h1v1h-1zM4 28h1v1h-1zM24 28h1v1h-1zM35 28h3v1h-3zM43 28h1v1h-1zM52 28h1v1h-1zM4 29h1v1h-1zM8 29h1v1h-1zM17 29h1v1h-1zM21 29h1v1h-1zM26 29h1v1h-1zM52 29h1v1h-1zM0 30h1v1h-1zM24 30h1v1h-1zM37 30h1v1h-1zM52 30h1v1h-1zM22 31h1v1h-1zM28 31h1v1h-1zM31 31h1v1h-1zM43 31h1v1h-1zM6 32h1v1h-1zM9 32h1v1h-1zM17 32h1v1h-1zM22 32h1v1h-1zM32 32h1v1h-1zM37 32h1v1h-1zM57 32h1v1h-1zM3 33h1v1h-1zM29 33h1v1h-1zM31 33h1v1h-1zM33 33h1v1h-1zM40 33h1v1h-1zM55 33h1v1h-1zM57 33h1v1h-1zM0 34h1v1h-1zM2 34h1v1h-1zM7 34h1v1h-1zM9 34h2v1h-2zM13 34h1v1h-1zM15 34h1v1h-1zM21 34h1v1h-1zM46 34h3v1h-3zM3 35h1v1h-1zM6 35h1v1h-1zM15 35h1v1h-1zM18 35h1v1h-1zM26 35h1v1h-1zM28 35h1v1h-1zM35 35h1v1h-1zM41 35h1v1h-1zM44 35h1v1h-1zM2 36h1v1h-1zM5 36h1v1h-1zM10 36h1v1h-1zM12 36h1v1h-1zM23 36h1v1h-1zM43 36h1v1h-1zM2 37h1v1h-1zM6 37h1v1h-1zM12 37h1v1h-1zM18 37h1v1h-1zM23 37h1v1h-1zM26 37h1v1h-1zM44 37h2v1h-2zM48 37h1v1h-1zM55 37h1v1h-1zM0 38h3v1h-3zM10 38h1v1h-1zM12 38h1v1h-1zM21 38h1v1h-1zM31 38h1v1h-1zM39 38h1v1h-1zM43 38h1v1h-1zM52 38h1v1h-1zM10 39h1v1h-1zM19 39h1v1h-1zM21 39h1v1h-1zM24 39h1v1h-1zM1 40h1v1h-1zM10 40h1v1h-1zM15 40h1v1h-1zM19 40h1v1h-1zM33 40h2v1h-2zM40 40h1v1h-1zM48 40h1v1h-1zM50 40h1v1h-1zM2 41h2v1h-2zM11 41h2v1h-2zM16 41h1v1h-1zM20 41h1v1h-1zM33 41h1v1h-1zM40 41h1v1h-1zM44 41h1v1h-1zM47 41h1v1h-1zM52 41h1v1h-1zM1 42h1v1h-1zM3 42h2v1h-2zM10 42h1v1h-1zM15 42h1v1h-1zM17 42h1v1h-1zM23 42h1v1h-1zM26 42h1v1h-1zM40 42h1v1h-1zM43 42h1v1h-1zM48 42h1v1h-1zM2 43h1v1h-1zM12 43h1v1h-1zM15 43h1v1h-1zM21 43h1v1h-1zM24 43h1v1h-1zM32 43h1v1h-1zM35 43h1v1h-1zM52 43h1v1h-1zM56 43h2v1h-2zM0 44h1v1h-1zM15 44h1v1h-1zM26 44h1v1h-1zM36 44h1v1h-1zM6 45h1v1h-1zM28 45h1v1h-1zM40 45h1v1h-1zM56 45h1v1h-1zM7 46h1v1h-1zM9 46h1v1h-1zM15 46h1v1h-1zM17 46h1v1h-1zM32 46h1v1h-1zM35 46h1v1h-1zM38 46h1v1h-1zM43 46h1v1h-1zM46 46h1v1h-1zM0 47h1v1h-1zM2 47h1v1h-1zM15 47h1v1h-1zM21 47h1v1h-1zM52 47h1v1h-1zM0 48h1v1h-1zM3 48h2v1h-2zM10 48h1v1h-1zM38 48h1v1h-1zM46 48h1v1h-1zM57 48h1v1h-1zM1 49h1v1h-1zM3 49h1v1h-1zM6 49h1v1h-1zM10 49h1v1h-1zM12 49h1v1h-1zM17 49h1v1h-1zM19 49h1v1h-1zM21 49h1v1h-1zM26 49h1v1h-1zM31 49h1v1h-1zM42 49h1v1h-1zM48 49h1v1h-1zM17 50h1v1h-1zM26 50h1v1h-1zM29 50h1v1h-1zM31 50h1v1h-1zM38 50h1v1h-1zM7 51h1v1h-1zM14 51h1v1h-1zM43 51h2v1h-2zM47 51h1v1h-1zM57 51h1v1h-1zM4 52h1v1h-1zM17 52h1v1h-1zM22 52h1v1h-1zM29 52h1v1h-1zM35 52h1v1h-1zM39 52h1v1h-1zM43 52h1v1h-1zM48 52h1v1h-1zM2 53h1v1h-1zM15 53h1v1h-1zM20 53h1v1h-1zM26 53h1v1h-1zM28 53h1v1h-1zM33 53h1v1h-1zM35 53h1v1h-1zM38 53h1v1h-1zM52 53h1v1h-1zM17 54h1v1h-1zM24 54h1v1h-1zM29 54h1v1h-1zM32 54h1v1h-1zM39 54h1v1h-1zM42 54h1v1h-1zM54 54h1v1h-1zM2 55h1v1h-1zM12 55h1v1h-1zM17 55h1v1h-1zM31 55h1v1h-1zM35 55h1v1h-1zM37 55h1v1h-1zM45 55h1v1h-1zM57 55h1v1h-1zM2 56h1v1h-1zM4 56h1v1h-1zM7 56h1v1h-1zM17 56h1v1h-1zM24 56h1v1h-1zM39 56h1v1h-1zM12 57h4v1h-4zM29 57h1v1h-1zM32 57h1v1h-1zM34 57h2v1h-2zM38 57h1v1h-1zM42 57h3v1h-3zM46 57h1v1h-1zM48 57h1v1h-1zM53 57h1v1h-1zM55 57h1v1h-1zM1 58h2v1h-2zM4 58h1v1h-1zM9 58h1v1h-1zM17 58h1v1h-1zM20 58h1v1h-1zM35 58h1v1h-1zM42 58h1v1h-1zM44 58h1v1h-1zM50 58h1v1h-1zM53 58h1v1h-1zM55 58h1v1h-1zM34 59h1v1h-1zM2 60h1v1h-1zM15 60h1v1h-1zM29 60h1v1h-1zM43 60h1v1h-1zM46 60h1v1h-1zM48 60h1v1h-1zM52 60h1v1h-1zM2 61h1v1h-1zM4 61h1v1h-1zM7 61h1v1h-1zM31 61h1v1h-1zM38 61h2v1h-2zM43 61h1v1h-1zM4 62h1v1h-1zM7 62h1v1h-1zM15 62h1v1h-1zM17 62h1v1h-1zM31 62h2v1h-2zM40 62h1v1h-1zM42 62h1v1h-1zM52 62h1v1h-1zM55 62h1v1h-1zM0 63h1v1h-1zM2 63h1v1h-1zM23 63h1v1h-1zM29 63h1v1h-1zM34 63h1v1h-1zM42 63h1v1h-1zM44 63h1v1h-1zM54 63h1v1h-1zM7 64h1v1h-1zM13 64h1v1h-1zM15 64h1v1h-1zM25 64h1v1h-1zM29 64h1v1h-1zM31 64h1v1h-1zM43 64h1v1h-1zM46 64h1v1h-1zM7 65h1v1h-1zM23 65h1v1h-1zM26 65h1v1h-1zM37 65h1v1h-1zM40 65h1v1h-1zM43 65h1v1h-1zM56 65h1v1h-1zM13 66h1v1h-1zM30 66h1v1h-1zM39 66h1v1h-1zM42 66h1v1h-1zM45 66h1v1h-1zM55 66h2v1h-2zM0 67h1v1h-1zM9 67h1v1h-1zM26 67h1v1h-1zM28 67h2v1h-2zM36 67h1v1h-1zM49 67h1v1h-1zM52 67h1v1h-1zM0 68h1v1h-1zM7 68h1v1h-1zM21 68h1v1h-1zM31 68h2v1h-2zM42 68h1v1h-1zM49 68h1v1h-1zM53 68h1v1h-1zM55 68h1v1h-1zM2 69h1v1h-1zM4 69h1v1h-1zM13 69h1v1h-1zM29 69h1v1h-1zM56 69h1v1h-1zM2 70h1v1h-1zM6 70h1v1h-1zM9 70h1v1h-1zM26 70h1v1h-1zM33 70h1v1h-1zM44 70h1v1h-1zM51 70h1v1h-1zM56 70h1v1h-1zM17 71h1v1h-1zM19 71h1v1h-1zM39 71h1v1h-1zM0 72h1v1h-1zM28 72h1v1h-1zM34 72h1v1h-1zM42 72h2v1h-2zM53 72h1v1h-1zM2 73h2v1h-2zM29 73h1v1h-1zM7 74h1v1h-1zM13 74h1v1h-1zM31 74h1v1h-1zM34 74h1v1h-1zM39 74h1v1h-1zM44 74h1v1h-1zM57 74h1v1h-1zM3 75h1v1h-1zM7 75h1v1h-1zM13 75h1v1h-1zM15 75h1v1h-1zM17 75h1v1h-1zM33 75h1v1h-1zM43 75h1v1h-1zM46 75h1v1h-1zM7 76h1v1h-1zM15 76h1v1h-1zM37 76h1v1h-1zM42 76h1v1h-1zM48 76h1v1h-1zM53 76h1v1h-1zM4 77h1v1h-1zM15 77h1v1h-1zM17 77h1v1h-1zM26 77h1v1h-1zM43 77h1v1h-1zM46 77h1v1h-1zM3 78h2v1h-2zM9 78h1v1h-1zM15 78h1v1h-1zM17 78h1v1h-1zM22 78h1v1h-1zM24 78h1v1h-1zM32 78h1v1h-1zM34 78h1v1h-1zM42 78h1v1h-1zM56 78h1v1h-1zM0 79h1v1h-1zM3 79h1v1h-1zM23 79h1v1h-1zM31 79h1v1h-1zM46 79h1v1h-1zM56 79h1v1h-1zM7 80h1v1h-1zM17 80h1v1h-1zM29 80h1v1h-1zM33 80h2v1h-2zM40 80h1v1h-1zM42 80h3v1h-3zM3 81h1v1h-1zM15 81h1v1h-1zM29 81h1v1h-1zM34 81h1v1h-1zM36 81h1v1h-1zM48 81h1v1h-1zM3 82h1v1h-1zM6 82h1v1h-1zM28 82h1v1h-1zM35 82h1v1h-1zM48 82h1v1h-1zM13 83h1v1h-1zM32 83h1v1h-1zM34 83h1v1h-1zM46 83h1v1h-1zM56 83h1v1h-1zM4 84h1v1h-1zM15 84h1v1h-1zM29 84h1v1h-1zM43 84h1v1h-1zM56 84h1v1h-1zM9 85h1v1h-1zM15 85h1v1h-1zM17 85h1v1h-1zM26 85h1v1h-1zM31 85h1v1h-1zM37 85h1v1h-1zM56 85h1v1h-1zM4 86h1v1h-1zM9 86h1v1h-1zM29 86h1v1h-1zM31 86h1v1h-1zM33 86h1v1h-1zM39 86h1v1h-1zM15 87h1v1h-1zM31 87h1v1h-1zM33 87h1v1h-1zM46 87h1v1h-1zM2 88h3v1h-3zM7 88h1v1h-1zM15 88h1v1h-1zM29 88h1v1h-1zM33 88h1v1h-1zM43 88h1v1h-1zM9 89h1v1h-1zM15 89h1v1h-1zM17 89h1v1h-1zM31 89h1v1h-1zM34 89h1v1h-1zM36 89h1v1h-1zM46 89h1v1h-1zM56 89h1v1h-1zM6 90h2v1h-2zM9 90h1v1h-1zM12 90h1v1h-1zM14 90h1v1h-1zM33 90h1v1h-1zM37 90h2v1h-2zM40 90h1v1h-1zM44 90h1v1h-1zM52 90h1v1h-1zM56 90h1v1h-1zM2 91h1v1h-1zM21 91h1v1h-1zM23 91h1v1h-1zM26 91h1v1h-1zM34 91h1v1h-1zM37 91h1v1h-1zM44 91h1v1h-1zM52 91h2v1h-2zM3 92h2v1h-2zM10 92h1v1h-1zM26 92h1v1h-1zM31 92h1v1h-1zM34 92h1v1h-1zM37 92h1v1h-1zM56 92h1v1h-1zM12 93h2v1h-2zM19 93h1v1h-1zM42 93h1v1h-1zM7 94h1v1h-1zM34 94h1v1h-1zM7 95h1v1h-1zM26 95h1v1h-1zM31 95h1v1h-1zM34 95h1v1h-1zM40 95h1v1h-1zM43 95h1v1h-1zM48 95h1v1h-1zM2 96h1v1h-1zM6 96h1v1h-1zM15 96h1v1h-1zM29 96h1v1h-1zM35 96h1v1h-1zM39 96h1v1h-1zM3 97h1v1h-1zM9 97h1v1h-1zM13 97h1v1h-1zM33 97h1v1h-1zM40 97h1v1h-1zM44 97h1v1h-1zM46 97h1v1h-1zM14 98h2v1h-2zM24 98h1v1h-1zM32 98h1v1h-1zM34 98h1v1h-1zM9 99h1v1h-1zM29 99h1v1h-1zM40 99h1v1h-1zM42 99h1v1h-1zM55 99h1v1h-1z"/>
<path fill="#c2c6ea" d="M15 0h1v1h-1zM17 0h1v1h-1zM27 0h1v1h-1zM31 0h1v1h-1zM43 0h1v1h-1zM50 0h1v1h-1zM26 1h1v1h-1zM29 1h1v1h-1zM32 1h1v1h-1zM34 1h1v1h-1zM39 1h1v1h-1zM42 1h1v1h-1zM44 1h1v1h-1zM46 1h1v1h-1zM50 1h1v1h-1zM53 1h2v1h-2zM56 1h1v1h-1zM23 2h1v1h-1zM26 2h1v1h-1zM28 2h2v1h-2zM32 2h1v1h-1zM34 2h1v1h-1zM37 2h1v1h-1zM39 2h1v1h-1zM43 2h2v1h-2zM49 2h1v1h-1zM52 2h1v1h-1zM54 2h1v1h-1zM56 2h2v1h-2zM4 3h1v1h-1zM12 3h1v1h-1zM26 3h1v1h-1zM29 3h1v1h-1zM35 3h5v1h-5zM42 3h3v1h-3zM52 3h1v1h-1zM54 3h1v1h-1zM56 3h2v1h-2zM2 4h1v1h-1zM24 4h1v1h-1zM28 4h1v1h-1zM32 4h1v1h-1zM36 4h1v1h-1zM39 4h2v1h-2zM42 4h1v1h-1zM47 4h2v1h-2zM54 4h3v1h-3zM8 5h1v1h-1zM12 5h2v1h-2zM15 5h1v1h-1zM30 5h2v1h-2zM34 5h1v1h-1zM39 5h1v1h-1zM42 5h1v1h-1zM44 5h1v1h-1zM46 5h1v1h-1zM48 5h2v1h-2zM52 5h3v1h-3zM56 5h1v1h-1zM24 6h1v1h-1zM29 6h1v1h-1zM33 6h1v1h-1zM36 6h1v1h-1zM40 6h2v1h-2zM48 6h1v1h-1zM54 6h2v1h-2zM57 6h1v1h-1zM0 7h2v1h-2zM3 7h1v1h-1zM13 7h1v1h-1zM15 7h1v1h-1zM17 7h1v1h-1zM19 7h2v1h-2zM29 7h1v1h-1zM31 7h2v1h-2zM34 7h1v1h-1zM37 7h4v1h-4zM42 7h2v1h-2zM45 7h2v1h-2zM51 7h1v1h-1zM53 7h1v1h-1zM55 7h1v1h-1zM1 8h1v1h-1zM4 8h1v1h-1zM15 8h1v1h-1zM26 8h1v1h-1zM35 8h1v1h-1zM37 8h1v1h-1zM40 8h1v1h-1zM49 8h1v1h-1zM52 8h4v1h-4zM0 9h1v1h-1zM31 9h1v1h-1zM38 9h1v1h-1zM46 9h1v1h-1zM48 9h1v1h-1zM54 9h1v1h-1zM56 9h1v1h-1zM7 10h1v1h-1zM19 10h1v1h-1zM23 10h1v1h-1zM29 10h1v1h-1zM34 10h1v1h-1zM38 10h1v1h-1zM40 10h1v1h-1zM46 10h2v1h-2zM53 10h1v1h-1zM19 11h1v1h-1zM33 11h1v1h-1zM40 11h1v1h-1zM42 11h2v1h-2zM46 11h1v1h-1zM56 11h1v1h-1zM4 12h1v1h-1zM8 12h1v1h-1zM13 12h1v1h-1zM15 12h1v1h-1zM35 12h1v1h-1zM37 12h2v1h-2zM43 12h2v1h-2zM51 12h1v1h-1zM53 12h1v1h-1zM7 13h1v1h-1zM13 13h1v1h-1zM17 13h1v1h-1zM29 13h1v1h-1zM32 13h1v1h-1zM36 13h1v1h-1zM39 13h1v1h-1zM43 13h1v1h-1zM52 13h1v1h-1zM57 13h1v1h-1zM2 14h1v1h-1zM7 14h1v1h-1zM17 14h1v1h-1zM24 14h1v1h-1zM26 14h1v1h-1zM29 14h1v1h-1zM32 14h1v1h-1zM38 14h2v1h-2zM42 14h1v1h-1zM46 14h1v1h-1zM48 14h1v1h-1zM52 14h2v1h-2zM56 14h1v1h-1zM7 15h1v1h-1zM12 15h2v1h-2zM17 15h1v1h-1zM19 15h1v1h-1zM21 15h1v1h-1zM23 15h1v1h-1zM35 15h1v1h-1zM37 15h2v1h-2zM43 15h2v1h-2zM46 15h1v1h-1zM48 15h1v1h-1zM52 15h2v1h-2zM2 16h1v1h-1zM13 16h1v1h-1zM19 16h1v1h-1zM29 16h1v1h-1zM31 16h1v1h-1zM38 16h1v1h-1zM46 16h1v1h-1zM50 16h1v1h-1zM56 16h1v1h-1zM2 17h1v1h-1zM7 17h1v1h-1zM12 17h2v1h-2zM17 17h1v1h-1zM19 17h1v1h-1zM24 17h1v1h-1zM26 17h1v1h-1zM29 17h1v1h-1zM32 17h2v1h-2zM35 17h3v1h-3zM39 17h1v1h-1zM46 17h1v1h-1zM49 17h2v1h-2zM55 17h1v1h-1zM1 18h1v1h-1zM7 18h1v1h-1zM9 18h1v1h-1zM17 18h1v1h-1zM19 18h1v1h-1zM21 18h1v1h-1zM26 18h1v1h-1zM32 18h1v1h-1zM37 18h1v1h-1zM39 18h1v1h-1zM43 18h2v1h-2zM48 18h1v1h-1zM50 18h3v1h-3zM19 19h1v1h-1zM24 19h1v1h-1zM35 19h1v1h-1zM41 19h2v1h-2zM47 19h1v1h-1zM51 19h1v1h-1zM0 20h1v1h-1zM7 20h1v1h-1zM10 20h1v1h-1zM17 20h1v1h-1zM20 20h1v1h-1zM23 20h1v1h-1zM31 20h2v1h-2zM37 20h1v1h-1zM40 20h1v1h-1zM44 20h1v1h-1zM46 20h1v1h-1zM48 20h2v1h-2zM56 20h1v1h-1zM0 21h1v1h-1zM20 21h1v1h-1zM23 21h1v1h-1zM29 21h1v1h-1zM38 21h1v1h-1zM43 21h1v1h-1zM46 21h1v1h-1zM49 21h3v1h-3zM7 22h1v1h-1zM12 22h2v1h-2zM29 22h1v1h-1zM32 22h1v1h-1zM36 22h1v1h-1zM40 22h1v1h-1zM42 22h1v1h-1zM46 22h1v1h-1zM48 22h1v1h-1zM50 22h1v1h-1zM4 23h1v1h-1zM28 23h2v1h-2zM36 23h1v1h-1zM38 23h1v1h-1zM40 23h1v1h-1zM46 23h1v1h-1zM56 23h1v1h-1zM13 24h1v1h-1zM19 24h1v1h-1zM23 24h1v1h-1zM29 24h1v1h-1zM33 24h1v1h-1zM40 24h1v1h-1zM43 24h1v1h-1zM46 24h1v1h-1zM48 24h1v1h-1zM52 24h2v1h-2zM56 24h1v1h-1zM0 25h2v1h-2zM12 25h2v1h-2zM31 25h1v1h-1zM40 25h1v1h-1zM44 25h1v1h-1zM55 25h1v1h-1zM10 26h1v1h-1zM12 26h1v1h-1zM23 26h1v1h-1zM35 26h1v1h-1zM38 26h1v1h-1zM49 26h1v1h-1zM57 26h1v1h-1zM17 27h1v1h-1zM24 27h1v1h-1zM40 27h1v1h-1zM42 27h2v1h-2zM53 27h1v1h-1zM2 28h1v1h-1zM7 28h1v1h-1zM13 28h1v1h-1zM15 28h1v1h-1zM17 28h1v1h-1zM19 28h1v1h-1zM21 28h1v1h-1zM29 28h1v1h-1zM32 28h1v1h-1zM38 28h3v1h-3zM46 28h1v1h-1zM48 28h3v1h-3zM54 28h1v1h-1zM56 28h1v1h-1zM2 29h1v1h-1zM15 29h1v1h-1zM19 29h1v1h-1zM29 29h1v1h-1zM54 29h1v1h-1zM2 30h1v1h-1zM7 30h1v1h-1zM9 30h1v1h-1zM13 30h1v1h-1zM19 30h1v1h-1zM32 30h1v1h-1zM35 30h2v1h-2zM38 30h1v1h-1zM40 30h1v1h-1zM46 30h1v1h-1zM49 30h2v1h-2zM53 30h1v1h-1zM56 30h1v1h-1zM13 31h1v1h-1zM15 31h1v1h-1zM19 31h2v1h-2zM26 31h1v1h-1zM36 31h1v1h-1zM50 31h1v1h-1zM53 31h1v1h-1zM3 32h2v1h-2zM8 32h1v1h-1zM12 32h1v1h-1zM20 32h1v1h-1zM34 32h1v1h-1zM40 32h2v1h-2zM43 32h2v1h-2zM46 32h1v1h-1zM51 32h4v1h-4zM7 33h1v1h-1zM9 33h1v1h-1zM13 33h1v1h-1zM15 33h1v1h-1zM17 33h1v1h-1zM23 33h1v1h-1zM26 33h1v1h-1zM32 33h1v1h-1zM36 33h2v1h-2zM43 33h1v1h-1zM49 33h1v1h-1zM56 33h1v1h-1zM18 34h1v1h-1zM24 34h3v1h-3zM28 34h1v1h-1zM33 34h2v1h-2zM36 34h1v1h-1zM38 34h1v1h-1zM43 34h1v1h-1zM45 34h1v1h-1zM1 35h1v1h-1zM4 35h1v1h-1zM7 35h1v1h-1zM9 35h1v1h-1zM12 35h1v1h-1zM17 35h1v1h-1zM37 35h3v1h-3zM42 35h1v1h-1zM48 35h1v1h-1zM50 35h5v1h-5zM56 35h1v1h-1zM11 36h1v1h-1zM15 36h1v1h-1zM17 36h1v1h-1zM26 36h1v1h-1zM29 36h1v1h-1zM31 36h1v1h-1zM37 36h2v1h-2zM44 36h1v1h-1zM55 36h2v1h-2zM3 37h2v1h-2zM9 37h3v1h-3zM20 37h1v1h-1zM28 37h1v1h-1zM30 37h4v1h-4zM36 37h1v1h-1zM38 37h1v1h-1zM43 37h1v1h-1zM47 37h1v1h-1zM53 37h1v1h-1zM56 37h1v1h-1zM13 38h1v1h-1zM17 38h1v1h-1zM38 38h1v1h-1zM40 38h1v1h-1zM48 38h2v1h-2zM51 38h1v1h-1zM55 38h1v1h-1zM2 39h1v1h-1zM15 39h1v1h-1zM17 39h1v1h-1zM28 39h2v1h-2zM32 39h1v1h-1zM35 39h2v1h-2zM39 39h1v1h-1zM43 39h1v1h-1zM47 39h1v1h-1zM55 39h2v1h-2zM12 40h1v1h-1zM17 40h1v1h-1zM26 40h1v1h-1zM43 40h1v1h-1zM46 40h1v1h-1zM49 40h1v1h-1zM51 40h1v1h-1zM56 40h1v1h-1zM7 41h1v1h-1zM9 41h1v1h-1zM24 41h1v1h-1zM26 41h1v1h-1zM28 41h3v1h-3zM38 41h1v1h-1zM41 41h2v1h-2zM48 41h1v1h-1zM50 41h1v1h-1zM54 41h2v1h-2zM7 42h1v1h-1zM12 42h1v1h-1zM21 42h1v1h-1zM29 42h1v1h-1zM35 42h1v1h-1zM37 42h2v1h-2zM44 42h1v1h-1zM49 42h1v1h-1zM52 42h2v1h-2zM55 42h3v1h-3zM7 43h1v1h-1zM13 43h1v1h-1zM17 43h1v1h-1zM19 43h1v1h-1zM26 43h1v1h-1zM28 43h1v1h-1zM34 43h1v1h-1zM37 43h2v1h-2zM42 43h1v1h-1zM44 43h1v1h-1zM46 43h1v1h-1zM50 43h1v1h-1zM53 43h1v1h-1zM17 44h1v1h-1zM20 44h1v1h-1zM29 44h1v1h-1zM31 44h2v1h-2zM37 44h4v1h-4zM44 44h1v1h-1zM48 44h1v1h-1zM50 44h1v1h-1zM56 44h2v1h-2zM9 45h1v1h-1zM14 45h1v1h-1zM17 45h1v1h-1zM19 45h1v1h-1zM24 45h1v1h-1zM54 45h1v1h-1zM2 46h2v1h-2zM10 46h1v1h-1zM12 46h1v1h-1zM21 46h1v1h-1zM48 46h1v1h-1zM52 46h2v1h-2zM12 47h2v1h-2zM17 47h1v1h-1zM26 47h1v1h-1zM32 47h1v1h-1zM36 47h1v1h-1zM38 47h3v1h-3zM46 47h1v1h-1zM48 47h3v1h-3zM53 47h1v1h-1zM56 47h1v1h-1zM8 48h1v1h-1zM20 48h1v1h-1zM23 48h1v1h-1zM26 48h1v1h-1zM32 48h2v1h-2zM37 48h1v1h-1zM40 48h1v1h-1zM48 48h1v1h-1zM52 48h1v1h-1zM54 48h2v1h-2zM0 49h1v1h-1zM7 49h1v1h-1zM9 49h1v1h-1zM13 49h1v1h-1zM15 49h1v1h-1zM18 49h1v1h-1zM20 49h1v1h-1zM23 49h1v1h-1zM29 49h1v1h-1zM35 49h1v1h-1zM37 49h2v1h-2zM43 49h1v1h-1zM50 49h1v1h-1zM53 49h1v1h-1zM56 49h1v1h-1zM0 50h1v1h-1zM2 50h2v1h-2zM6 50h2v1h-2zM10 50h1v1h-1zM14 50h2v1h-2zM22 50h1v1h-1zM24 50h1v1h-1zM28 50h1v1h-1zM30 50h1v1h-1zM37 50h1v1h-1zM39 50h1v1h-1zM43 50h1v1h-1zM46 50h1v1h-1zM48 50h1v1h-1zM52 50h1v1h-1zM57 50h1v1h-1zM0 51h1v1h-1zM6 51h1v1h-1zM9 51h1v1h-1zM13 51h1v1h-1zM17 51h1v1h-1zM19 51h1v1h-1zM22 51h2v1h-2zM25 51h2v1h-2zM28 51h3v1h-3zM32 51h1v1h-1zM34 51h1v1h-1zM46 51h1v1h-1zM3 52h1v1h-1zM6 52h1v1h-1zM14 52h1v1h-1zM19 52h1v1h-1zM23 52h1v1h-1zM26 52h1v1h-1zM38 52h1v1h-1zM40 52h1v1h-1zM46 52h1v1h-1zM52 52h1v1h-1zM57 52h1v1h-1zM1 53h1v1h-1zM4 53h1v1h-1zM7 53h3v1h-3zM11 53h1v1h-1zM17 53h1v1h-1zM19 53h1v1h-1zM22 53h1v1h-1zM29 53h1v1h-1zM31 53h1v1h-1zM40 53h1v1h-1zM42 53h1v1h-1zM44 53h1v1h-1zM0 54h3v1h-3zM7 54h1v1h-1zM9 54h1v1h-1zM13 54h1v1h-1zM21 54h1v1h-1zM25 54h1v1h-1zM28 54h1v1h-1zM30 54h1v1h-1zM34 54h1v1h-1zM40 54h1v1h-1zM57 54h1v1h-1zM3 55h1v1h-1zM8 55h1v1h-1zM11 55h1v1h-1zM14 55h2v1h-2zM22 55h1v1h-1zM25 55h1v1h-1zM28 55h2v1h-2zM32 55h1v1h-1zM36 55h1v1h-1zM46 55h2v1h-2zM51 55h2v1h-2zM1 56h1v1h-1zM10 56h1v1h-1zM14 56h1v1h-1zM22 56h2v1h-2zM27 56h1v1h-1zM29 56h1v1h-1zM31 56h1v1h-1zM37 56h2v1h-2zM40 56h1v1h-1zM46 56h1v1h-1zM52 56h1v1h-1zM0 57h1v1h-1zM3 57h2v1h-2zM9 57h1v1h-1zM17 57h2v1h-2zM21 57h1v1h-1zM24 57h1v1h-1zM26 57h1v1h-1zM28 57h1v1h-1zM31 57h1v1h-1zM39 57h2v1h-2zM10 58h1v1h-1zM12 58h2v1h-2zM16 58h1v1h-1zM18 58h2v1h-2zM23 58h1v1h-1zM26 58h1v1h-1zM29 58h1v1h-1zM32 58h1v1h-1zM34 58h1v1h-1zM37 58h1v1h-1zM40 58h1v1h-1zM43 58h1v1h-1zM46 58h1v1h-1zM52 58h1v1h-1zM1 59h1v1h-1zM9 59h1v1h-1zM15 59h1v1h-1zM17 59h1v1h-1zM22 59h2v1h-2zM31 59h1v1h-1zM37 59h1v1h-1zM39 59h1v1h-1zM45 59h2v1h-2zM52 59h1v1h-1zM57 59h1v1h-1zM0 60h1v1h-1zM3 60h2v1h-2zM6 60h1v1h-1zM13 60h1v1h-1zM19 60h1v1h-1zM21 60h3v1h-3zM28 60h1v1h-1zM31 60h1v1h-1zM40 60h1v1h-1zM44 60h1v1h-1zM54 60h1v1h-1zM57 60h1v1h-1zM0 61h1v1h-1zM3 61h1v1h-1zM6 61h1v1h-1zM8 61h1v1h-1zM10 61h1v1h-1zM14 61h1v1h-1zM17 61h1v1h-1zM20 61h1v1h-1zM22 61h1v1h-1zM27 61h1v1h-1zM37 61h1v1h-1zM40 61h1v1h-1zM46 61h1v1h-1zM3 62h1v1h-1zM6 62h1v1h-1zM13 62h1v1h-1zM19 62h1v1h-1zM21 62h2v1h-2zM27 62h1v1h-1zM29 62h1v1h-1zM34 62h1v1h-1zM39 62h1v1h-1zM46 62h1v1h-1zM8 63h1v1h-1zM12 63h4v1h-4zM21 63h2v1h-2zM25 63h1v1h-1zM28 63h1v1h-1zM31 63h1v1h-1zM37 63h1v1h-1zM39 63h1v1h-1zM46 63h1v1h-1zM48 63h1v1h-1zM56 63h1v1h-1zM1 64h1v1h-1zM3 64h1v1h-1zM6 64h1v1h-1zM8 64h1v1h-1zM21 64h1v1h-1zM39 64h2v1h-2zM44 64h1v1h-1zM52 64h1v1h-1zM3 65h1v1h-1zM5 65h1v1h-1zM9 65h1v1h-1zM12 65h2v1h-2zM17 65h1v1h-1zM22 65h1v1h-1zM29 65h1v1h-1zM31 65h1v1h-1zM33 65h2v1h-2zM46 65h1v1h-1zM53 65h1v1h-1zM1 66h1v1h-1zM4 66h1v1h-1zM7 66h2v1h-2zM19 66h1v1h-1zM26 66h1v1h-1zM28 66h2v1h-2zM46 66h1v1h-1zM57 66h1v1h-1zM3 67h1v1h-1zM6 67h1v1h-1zM10 67h1v1h-1zM13 67h1v1h-1zM21 67h1v1h-1zM23 67h2v1h-2zM31 67h1v1h-1zM35 67h1v1h-1zM37 67h1v1h-1zM39 67h1v1h-1zM43 67h1v1h-1zM46 67h1v1h-1zM2 68h1v1h-1zM6 68h1v1h-1zM9 68h1v1h-1zM13 68h2v1h-2zM23 68h1v1h-1zM25 68h2v1h-2zM28 68h1v1h-1zM40 68h1v1h-1zM7 69h1v1h-1zM14 69h1v1h-1zM17 69h1v1h-1zM21 69h2v1h-2zM27 69h1v1h-1zM32 69h1v1h-1zM38 69h1v1h-1zM40 69h1v1h-1zM43 69h1v1h-1zM46 69h1v1h-1zM52 69h1v1h-1zM1 70h1v1h-1zM3 70h1v1h-1zM7 70h1v1h-1zM13 70h1v1h-1zM17 70h3v1h-3zM22 70h1v1h-1zM28 70h2v1h-2zM36 70h1v1h-1zM38 70h1v1h-1zM40 70h1v1h-1zM46 70h1v1h-1zM49 70h1v1h-1zM0 71h1v1h-1zM3 71h1v1h-1zM7 71h1v1h-1zM10 71h1v1h-1zM13 71h3v1h-3zM23 71h1v1h-1zM26 71h1v1h-1zM28 71h1v1h-1zM34 71h1v1h-1zM37 71h1v1h-1zM43 71h1v1h-1zM46 71h1v1h-1zM56 71h1v1h-1zM4 72h1v1h-1zM6 72h1v1h-1zM14 72h2v1h-2zM19 72h1v1h-1zM22 72h2v1h-2zM26 72h1v1h-1zM29 72h1v1h-1zM31 72h1v1h-1zM36 72h1v1h-1zM40 72h1v1h-1zM46 72h1v1h-1zM57 72h1v1h-1zM0 73h1v1h-1zM6 73h1v1h-1zM10 73h1v1h-1zM15 73h1v1h-1zM19 73h1v1h-1zM27 73h1v1h-1zM31 73h1v1h-1zM37 73h1v1h-1zM43 73h1v1h-1zM46 73h1v1h-1zM57 73h1v1h-1zM0 74h1v1h-1zM3 74h1v1h-1zM6 74h1v1h-1zM17 74h1v1h-1zM22 74h2v1h-2zM26 74h1v1h-1zM29 74h1v1h-1zM37 74h1v1h-1zM40 74h1v1h-1zM46 74h2v1h-2zM0 75h1v1h-1zM4 75h1v1h-1zM6 75h1v1h-1zM8 75h1v1h-1zM10 75h1v1h-1zM16 75h1v1h-1zM19 75h1v1h-1zM21 75h1v1h-1zM23 75h2v1h-2zM28 75h1v1h-1zM39 75h2v1h-2zM52 75h1v1h-1zM57 75h1v1h-1zM3 76h2v1h-2zM10 76h1v1h-1zM13 76h1v1h-1zM17 76h1v1h-1zM19 76h1v1h-1zM21 76h1v1h-1zM28 76h1v1h-1zM31 76h1v1h-1zM39 76h2v1h-2zM46 76h1v1h-1zM52 76h1v1h-1zM56 76h1v1h-1zM0 77h1v1h-1zM3 77h1v1h-1zM5 77h1v1h-1zM7 77h1v1h-1zM9 77h1v1h-1zM13 77h1v1h-1zM19 77h1v1h-1zM21 77h1v1h-1zM23 77h1v1h-1zM28 77h2v1h-2zM33 77h1v1h-1zM39 77h2v1h-2zM45 77h1v1h-1zM52 77h1v1h-1zM0 78h1v1h-1zM6 78h1v1h-1zM10 78h1v1h-1zM13 78h1v1h-1zM19 78h2v1h-2zM23 78h1v1h-1zM26 78h1v1h-1zM28 78h1v1h-1zM37 78h1v1h-1zM39 78h2v1h-2zM46 78h1v1h-1zM52 78h1v1h-1zM6 79h1v1h-1zM10 79h1v1h-1zM28 79h1v1h-1zM33 79h3v1h-3zM39 79h1v1h-1zM52 79h1v1h-1zM57 79h1v1h-1zM1 80h1v1h-1zM3 80h2v1h-2zM6 80h1v1h-1zM13 80h2v1h-2zM19 80h1v1h-1zM21 80h2v1h-2zM24 80h1v1h-1zM28 80h1v1h-1zM31 80h1v1h-1zM37 80h1v1h-1zM39 80h1v1h-1zM48 80h1v1h-1zM57 80h1v1h-1zM0 81h1v1h-1zM4 81h1v1h-1zM13 81h1v1h-1zM19 81h1v1h-1zM21 81h1v1h-1zM28 81h1v1h-1zM31 81h1v1h-1zM37 81h1v1h-1zM39 81h2v1h-2zM46 81h1v1h-1zM13 82h1v1h-1zM19 82h2v1h-2zM23 82h1v1h-1zM27 82h1v1h-1zM29 82h1v1h-1zM31 82h1v1h-1zM39 82h2v1h-2zM43 82h1v1h-1zM46 82h1v1h-1zM0 83h2v1h-2zM3 83h1v1h-1zM6 83h1v1h-1zM10 83h1v1h-1zM19 83h1v1h-1zM22 83h1v1h-1zM26 83h4v1h-4zM31 83h1v1h-1zM37 83h1v1h-1zM39 83h2v1h-2zM43 83h1v1h-1zM52 83h1v1h-1zM0 84h1v1h-1zM10 84h1v1h-1zM13 84h2v1h-2zM17 84h1v1h-1zM20 84h1v1h-1zM23 84h1v1h-1zM28 84h1v1h-1zM31 84h1v1h-1zM39 84h2v1h-2zM46 84h1v1h-1zM1 85h1v1h-1zM3 85h2v1h-2zM8 85h1v1h-1zM13 85h2v1h-2zM19 85h1v1h-1zM21 85h2v1h-2zM27 85h2v1h-2zM39 85h1v1h-1zM46 85h1v1h-1zM52 85h1v1h-1zM57 85h1v1h-1zM0 86h2v1h-2zM3 86h1v1h-1zM13 86h2v1h-2zM17 86h1v1h-1zM19 86h1v1h-1zM21 86h2v1h-2zM25 86h1v1h-1zM27 86h1v1h-1zM34 86h1v1h-1zM43 86h1v1h-1zM46 86h1v1h-1zM52 86h1v1h-1zM56 86h1v1h-1zM7 87h1v1h-1zM9 87h1v1h-1zM19 87h1v1h-1zM23 87h1v1h-1zM25 87h1v1h-1zM27 87h1v1h-1zM36 87h1v1h-1zM39 87h1v1h-1zM0 88h2v1h-2zM6 88h1v1h-1zM13 88h2v1h-2zM17 88h1v1h-1zM19 88h2v1h-2zM22 88h1v1h-1zM24 88h1v1h-1zM27 88h2v1h-2zM31 88h1v1h-1zM37 88h1v1h-1zM46 88h1v1h-1zM52 88h1v1h-1zM56 88h2v1h-2zM0 89h1v1h-1zM3 89h2v1h-2zM6 89h2v1h-2zM10 89h1v1h-1zM14 89h1v1h-1zM21 89h1v1h-1zM23 89h1v1h-1zM37 89h1v1h-1zM39 89h2v1h-2zM48 89h1v1h-1zM52 89h1v1h-1zM0 90h1v1h-1zM3 90h2v1h-2zM8 90h1v1h-1zM13 90h1v1h-1zM17 90h4v1h-4zM23 90h1v1h-1zM31 90h1v1h-1zM34 90h1v1h-1zM39 90h1v1h-1zM46 90h1v1h-1zM48 90h1v1h-1zM51 90h1v1h-1zM57 90h1v1h-1zM1 91h1v1h-1zM4 91h1v1h-1zM6 91h1v1h-1zM8 91h1v1h-1zM10 91h2v1h-2zM13 91h3v1h-3zM20 91h1v1h-1zM22 91h1v1h-1zM24 91h1v1h-1zM27 91h1v1h-1zM29 91h1v1h-1zM31 91h1v1h-1zM33 91h1v1h-1zM36 91h1v1h-1zM40 91h1v1h-1zM43 91h1v1h-1zM56 91h1v1h-1zM0 92h1v1h-1zM13 92h1v1h-1zM15 92h2v1h-2zM21 92h1v1h-1zM23 92h3v1h-3zM28 92h1v1h-1zM39 92h1v1h-1zM46 92h1v1h-1zM52 92h1v1h-1zM57 92h1v1h-1zM1 93h1v1h-1zM3 93h1v1h-1zM10 93h1v1h-1zM15 93h1v1h-1zM21 93h1v1h-1zM23 93h1v1h-1zM26 93h2v1h-2zM29 93h1v1h-1zM31 93h1v1h-1zM34 93h1v1h-1zM37 93h1v1h-1zM40 93h1v1h-1zM46 93h1v1h-1zM52 93h1v1h-1zM0 94h1v1h-1zM3 94h2v1h-2zM6 94h1v1h-1zM10 94h1v1h-1zM14 94h1v1h-1zM16 94h2v1h-2zM19 94h1v1h-1zM25 94h1v1h-1zM31 94h1v1h-1zM37 94h1v1h-1zM43 94h1v1h-1zM47 94h2v1h-2zM52 94h1v1h-1zM1 95h1v1h-1zM3 95h2v1h-2zM6 95h1v1h-1zM8 95h1v1h-1zM10 95h1v1h-1zM13 95h1v1h-1zM16 95h4v1h-4zM21 95h1v1h-1zM23 95h1v1h-1zM25 95h1v1h-1zM27 95h1v1h-1zM37 95h1v1h-1zM46 95h1v1h-1zM52 95h1v1h-1zM54 95h1v1h-1zM0 96h2v1h-2zM4 96h1v1h-1zM10 96h1v1h-1zM13 96h1v1h-1zM19 96h2v1h-2zM22 96h1v1h-1zM25 96h1v1h-1zM27 96h1v1h-1zM31 96h1v1h-1zM34 96h1v1h-1zM37 96h1v1h-1zM40 96h1v1h-1zM46 96h1v1h-1zM56 96h1v1h-1zM1 97h1v1h-1zM6 97h1v1h-1zM8 97h1v1h-1zM17 97h1v1h-1zM19 97h1v1h-1zM21 97h2v1h-2zM24 97h2v1h-2zM28 97h1v1h-1zM31 97h1v1h-1zM34 97h1v1h-1zM37 97h1v1h-1zM42 97h1v1h-1zM52 97h1v1h-1zM54 97h1v1h-1zM56 97h1v1h-1zM0 98h1v1h-1zM3 98h2v1h-2zM8 98h1v1h-1zM19 98h1v1h-1zM21 98h1v1h-1zM23 98h1v1h-1zM27 98h1v1h-1zM31 98h1v1h-1zM33 98h1v1h-1zM40 98h1v1h-1zM46 98h1v1h-1zM56 98h1v1h-1zM1 99h1v1h-1zM13 99h1v1h-1zM15 99h1v1h-1zM17 99h1v1h-1zM20 99h1v1h-1zM23 99h1v1h-1zM27 99h1v1h-1zM31 99h1v1h-1zM37 99h1v1h-1zM45 99h1v1h-1z"/>
<path fill="#6870c8" d="M33 0h1v1h-1zM36 1h3v1h-3zM41 1h1v1h-1zM49 1h1v1h-1zM51 1h2v1h-2zM55 1h1v1h-1zM57 1h1v1h-1zM38 2h1v1h-1zM41 2h1v1h-1zM51 2h1v1h-1zM53 2h1v1h-1zM55 2h1v1h-1zM30 3h1v1h-1zM34 3h1v1h-1zM45 3h1v1h-1zM49 3h1v1h-1zM51 3h1v1h-1zM53 3h1v1h-1zM55 3h1v1h-1zM29 4h2v1h-2zM35 4h1v1h-1zM41 4h1v1h-1zM43 4h1v1h-1zM45 4h1v1h-1zM50 4h2v1h-2zM57 4h1v1h-1zM29 5h1v1h-1zM35 5h4v1h-4zM41 5h1v1h-1zM32 6h1v1h-1zM39 6h1v1h-1zM42 6h1v1h-1zM45 6h1v1h-1zM47 6h1v1h-1zM49 6h5v1h-5zM56 6h1v1h-1zM7 7h1v1h-1zM30 7h1v1h-1zM35 7h1v1h-1zM41 7h1v1h-1zM44 7h1v1h-1zM47 7h3v1h-3zM54 7h1v1h-1zM56 7h1v1h-1zM7 8h1v1h-1zM12 8h1v1h-1zM29 8h2v1h-2zM32 8h1v1h-1zM36 8h1v1h-1zM39 8h1v1h-1zM41 8h2v1h-2zM45 8h1v1h-1zM48 8h1v1h-1zM50 8h2v1h-2zM56 8h1v1h-1zM21 9h1v1h-1zM30 9h1v1h-1zM34 9h3v1h-3zM39 9h1v1h-1zM42 9h3v1h-3zM47 9h1v1h-1zM51 9h1v1h-1zM55 9h1v1h-1zM12 10h1v1h-1zM32 10h1v1h-1zM36 10h2v1h-2zM41 10h2v1h-2zM45 10h1v1h-1zM50 10h3v1h-3zM54 10h4v1h-4zM7 11h1v1h-1zM22 11h1v1h-1zM31 11h1v1h-1zM38 11h2v1h-2zM51 11h1v1h-1zM53 11h3v1h-3zM29 12h1v1h-1zM36 12h1v1h-1zM42 12h1v1h-1zM45 12h1v1h-1zM47 12h1v1h-1zM52 12h1v1h-1zM54 12h4v1h-4zM34 13h1v1h-1zM37 13h1v1h-1zM42 13h1v1h-1zM44 13h2v1h-2zM50 13h2v1h-2zM53 13h3v1h-3zM12 14h1v1h-1zM19 14h1v1h-1zM36 14h1v1h-1zM44 14h1v1h-1zM49 14h2v1h-2zM54 14h1v1h-1zM29 15h1v1h-1zM31 15h1v1h-1zM34 15h1v1h-1zM39 15h1v1h-1zM42 15h1v1h-1zM49 15h1v1h-1zM51 15h1v1h-1zM54 15h3v1h-3zM32 16h1v1h-1zM36 16h1v1h-1zM42 16h1v1h-1zM44 16h1v1h-1zM49 16h1v1h-1zM51 16h1v1h-1zM54 16h2v1h-2zM38 17h1v1h-1zM42 17h1v1h-1zM44 17h2v1h-2zM51 17h1v1h-1zM54 17h1v1h-1zM56 17h1v1h-1zM31 18h1v1h-1zM35 18h2v1h-2zM38 18h1v1h-1zM40 18h1v1h-1zM47 18h1v1h-1zM55 18h1v1h-1zM28 19h1v1h-1zM30 19h1v1h-1zM38 19h2v1h-2zM43 19h1v1h-1zM45 19h1v1h-1zM49 19h1v1h-1zM53 19h1v1h-1zM57 19h1v1h-1zM30 20h1v1h-1zM36 20h1v1h-1zM38 20h2v1h-2zM42 20h1v1h-1zM45 20h1v1h-1zM52 20h1v1h-1zM54 20h1v1h-1zM31 21h1v1h-1zM35 21h2v1h-2zM39 21h1v1h-1zM42 21h1v1h-1zM45 21h1v1h-1zM48 21h1v1h-1zM52 21h5v1h-5zM2 22h1v1h-1zM26 22h1v1h-1zM35 22h1v1h-1zM38 22h2v1h-2zM44 22h2v1h-2zM51 22h1v1h-1zM53 22h4v1h-4zM30 23h1v1h-1zM34 23h1v1h-1zM37 23h1v1h-1zM39 23h1v1h-1zM42 23h1v1h-1zM49 23h3v1h-3zM54 23h2v1h-2zM57 23h1v1h-1zM7 24h1v1h-1zM30 24h1v1h-1zM32 24h1v1h-1zM39 24h1v1h-1zM42 24h1v1h-1zM44 24h1v1h-1zM49 24h2v1h-2zM55 24h1v1h-1zM7 25h1v1h-1zM30 25h1v1h-1zM34 25h1v1h-1zM39 25h1v1h-1zM42 25h2v1h-2zM45 25h2v1h-2zM49 25h2v1h-2zM56 25h1v1h-1zM29 26h1v1h-1zM31 26h3v1h-3zM37 26h1v1h-1zM39 26h1v1h-1zM41 26h2v1h-2zM51 26h1v1h-1zM54 26h1v1h-1zM56 26h1v1h-1zM29 27h1v1h-1zM35 27h1v1h-1zM48 27h1v1h-1zM51 27h1v1h-1zM55 27h1v1h-1zM57 27h1v1h-1zM26 28h1v1h-1zM44 28h1v1h-1zM51 28h1v1h-1zM53 28h1v1h-1zM55 28h1v1h-1zM27 29h1v1h-1zM40 29h1v1h-1zM42 29h2v1h-2zM57 29h1v1h-1zM12 30h1v1h-1zM26 30h1v1h-1zM29 30h1v1h-1zM42 30h1v1h-1zM44 30h1v1h-1zM48 30h1v1h-1zM51 30h1v1h-1zM55 30h1v1h-1zM2 31h1v1h-1zM21 31h1v1h-1zM29 31h1v1h-1zM32 31h2v1h-2zM35 31h1v1h-1zM42 31h1v1h-1zM44 31h1v1h-1zM47 31h1v1h-1zM56 31h2v1h-2zM29 32h3v1h-3zM35 32h1v1h-1zM38 32h2v1h-2zM48 32h1v1h-1zM55 32h2v1h-2zM1 33h1v1h-1zM4 33h1v1h-1zM35 33h1v1h-1zM38 33h2v1h-2zM42 33h1v1h-1zM44 33h1v1h-1zM48 33h1v1h-1zM50 33h1v1h-1zM52 33h1v1h-1zM54 33h1v1h-1zM32 34h1v1h-1zM35 34h1v1h-1zM37 34h1v1h-1zM39 34h1v1h-1zM42 34h1v1h-1zM51 34h3v1h-3zM55 34h3v1h-3zM29 35h2v1h-2zM32 35h2v1h-2zM46 35h1v1h-1zM49 35h1v1h-1zM55 35h1v1h-1zM57 35h1v1h-1zM34 36h1v1h-1zM36 36h1v1h-1zM39 36h1v1h-1zM42 36h1v1h-1zM45 36h1v1h-1zM47 36h1v1h-1zM49 36h2v1h-2zM52 36h2v1h-2zM57 36h1v1h-1zM29 37h1v1h-1zM34 37h2v1h-2zM37 37h1v1h-1zM39 37h1v1h-1zM42 37h1v1h-1zM49 37h2v1h-2zM52 37h1v1h-1zM54 37h1v1h-1zM26 38h1v1h-1zM29 38h2v1h-2zM32 38h1v1h-1zM36 38h1v1h-1zM42 38h1v1h-1zM45 38h2v1h-2zM50 38h1v1h-1zM53 38h1v1h-1zM56 38h1v1h-1zM30 39h1v1h-1zM37 39h2v1h-2zM42 39h1v1h-1zM45 39h1v1h-1zM49 39h3v1h-3zM53 39h2v1h-2zM57 39h1v1h-1zM29 40h2v1h-2zM32 40h1v1h-1zM38 40h2v1h-2zM42 40h1v1h-1zM45 40h1v1h-1zM47 40h1v1h-1zM52 40h3v1h-3zM32 41h1v1h-1zM35 41h3v1h-3zM39 41h1v1h-1zM43 41h1v1h-1zM45 41h1v1h-1zM49 41h1v1h-1zM53 41h1v1h-1zM56 41h2v1h-2zM19 42h1v1h-1zM34 42h1v1h-1zM36 42h1v1h-1zM39 42h1v1h-1zM41 42h1v1h-1zM46 42h1v1h-1zM50 42h2v1h-2zM54 42h1v1h-1zM29 43h2v1h-2zM36 43h1v1h-1zM41 43h1v1h-1zM49 43h1v1h-1zM51 43h1v1h-1zM54 43h2v1h-2zM12 44h1v1h-1zM35 44h1v1h-1zM42 44h1v1h-1zM51 44h1v1h-1zM54 44h2v1h-2zM10 45h1v1h-1zM41 45h1v1h-1zM46 45h1v1h-1zM13 46h1v1h-1zM26 46h1v1h-1zM29 46h1v1h-1zM31 46h1v1h-1zM33 46h1v1h-1zM39 46h2v1h-2zM47 46h1v1h-1zM49 46h3v1h-3zM55 46h2v1h-2zM7 47h1v1h-1zM19 47h1v1h-1zM29 47h2v1h-2zM42 47h1v1h-1zM44 47h1v1h-1zM51 47h1v1h-1zM54 47h2v1h-2zM1 48h1v1h-1zM7 48h1v1h-1zM30 48h1v1h-1zM44 48h1v1h-1zM49 48h3v1h-3zM56 48h1v1h-1zM27 49h1v1h-1zM30 49h1v1h-1zM36 49h1v1h-1zM39 49h3v1h-3zM44 49h1v1h-1zM49 49h1v1h-1zM51 49h2v1h-2zM54 49h2v1h-2zM57 49h1v1h-1zM1 50h1v1h-1zM4 50h1v1h-1zM8 50h1v1h-1zM13 50h1v1h-1zM20 50h1v1h-1zM25 50h1v1h-1zM1 51h1v1h-1zM3 51h1v1h-1zM5 51h1v1h-1zM8 51h1v1h-1zM10 51h1v1h-1zM15 51h2v1h-2zM18 51h1v1h-1zM20 51h2v1h-2zM27 51h1v1h-1zM48 51h1v1h-1zM0 52h2v1h-2zM5 52h1v1h-1zM7 52h2v1h-2zM10 52h1v1h-1zM13 52h1v1h-1zM20 52h2v1h-2zM27 52h2v1h-2zM0 53h1v1h-1zM6 53h1v1h-1zM10 53h1v1h-1zM13 53h2v1h-2zM16 53h1v1h-1zM18 53h1v1h-1zM21 53h1v1h-1zM23 53h1v1h-1zM25 53h1v1h-1zM27 53h1v1h-1zM46 53h1v1h-1zM3 54h1v1h-1zM6 54h1v1h-1zM8 54h1v1h-1zM10 54h3v1h-3zM14 54h1v1h-1zM16 54h1v1h-1zM19 54h2v1h-2zM23 54h1v1h-1zM26 54h2v1h-2zM46 54h1v1h-1zM0 55h2v1h-2zM6 55h1v1h-1zM10 55h1v1h-1zM13 55h1v1h-1zM16 55h1v1h-1zM19 55h1v1h-1zM23 55h2v1h-2zM26 55h2v1h-2zM40 55h1v1h-1zM0 56h1v1h-1zM3 56h1v1h-1zM6 56h1v1h-1zM8 56h1v1h-1zM16 56h1v1h-1zM19 56h2v1h-2zM28 56h1v1h-1zM5 57h2v1h-2zM8 57h1v1h-1zM10 57h1v1h-1zM19 57h2v1h-2zM22 57h2v1h-2zM37 57h1v1h-1zM52 57h1v1h-1zM0 58h1v1h-1zM3 58h1v1h-1zM6 58h1v1h-1zM8 58h1v1h-1zM14 58h1v1h-1zM21 58h1v1h-1zM24 58h2v1h-2zM27 58h1v1h-1zM57 58h1v1h-1zM0 59h1v1h-1zM3 59h1v1h-1zM6 59h1v1h-1zM8 59h1v1h-1zM14 59h1v1h-1zM19 59h3v1h-3zM28 59h1v1h-1zM1 60h1v1h-1zM8 60h1v1h-1zM10 60h1v1h-1zM14 60h1v1h-1zM20 60h1v1h-1zM25 60h1v1h-1zM27 60h1v1h-1zM37 60h1v1h-1zM1 61h1v1h-1zM13 61h1v1h-1zM19 61h1v1h-1zM21 61h1v1h-1zM23 61h1v1h-1zM25 61h1v1h-1zM28 61h1v1h-1zM0 62h2v1h-2zM8 62h1v1h-1zM10 62h2v1h-2zM14 62h1v1h-1zM16 62h1v1h-1zM20 62h1v1h-1zM23 62h1v1h-1zM28 62h1v1h-1zM37 62h1v1h-1zM57 62h1v1h-1zM1 63h1v1h-1zM3 63h1v1h-1zM5 63h2v1h-2zM10 63h1v1h-1zM16 63h1v1h-1zM19 63h2v1h-2zM57 63h1v1h-1zM0 64h1v1h-1zM5 64h1v1h-1zM9 64h2v1h-2zM14 64h1v1h-1zM20 64h1v1h-1zM23 64h1v1h-1zM28 64h1v1h-1zM37 64h1v1h-1zM57 64h1v1h-1zM0 65h2v1h-2zM6 65h1v1h-1zM8 65h1v1h-1zM10 65h1v1h-1zM14 65h1v1h-1zM16 65h1v1h-1zM19 65h3v1h-3zM25 65h1v1h-1zM27 65h2v1h-2zM52 65h1v1h-1zM57 65h1v1h-1zM0 66h1v1h-1zM5 66h2v1h-2zM9 66h3v1h-3zM14 66h1v1h-1zM16 66h1v1h-1zM20 66h1v1h-1zM22 66h4v1h-4zM27 66h1v1h-1zM2 67h1v1h-1zM8 67h1v1h-1zM11 67h1v1h-1zM14 67h1v1h-1zM16 67h1v1h-1zM18 67h3v1h-3zM22 67h1v1h-1zM27 67h1v1h-1zM57 67h1v1h-1zM8 68h1v1h-1zM10 68h1v1h-1zM15 68h2v1h-2zM20 68h1v1h-1zM22 68h1v1h-1zM24 68h1v1h-1zM27 68h1v1h-1zM44 68h1v1h-1zM57 68h1v1h-1zM0 69h2v1h-2zM3 69h1v1h-1zM5 69h2v1h-2zM8 69h1v1h-1zM10 69h2v1h-2zM16 69h1v1h-1zM19 69h2v1h-2zM23 69h1v1h-1zM28 69h1v1h-1zM57 69h1v1h-1zM0 70h1v1h-1zM4 70h1v1h-1zM8 70h1v1h-1zM10 70h1v1h-1zM15 70h2v1h-2zM27 70h1v1h-1zM32 70h1v1h-1zM43 70h1v1h-1zM52 70h1v1h-1zM57 70h1v1h-1zM4 71h1v1h-1zM6 71h1v1h-1zM8 71h1v1h-1zM20 71h3v1h-3zM27 71h1v1h-1zM29 71h1v1h-1zM40 71h1v1h-1zM42 71h1v1h-1zM1 72h1v1h-1zM3 72h1v1h-1zM5 72h1v1h-1zM8 72h1v1h-1zM10 72h1v1h-1zM13 72h1v1h-1zM20 72h2v1h-2zM27 72h1v1h-1zM37 72h1v1h-1zM52 72h1v1h-1zM1 73h1v1h-1zM4 73h1v1h-1zM8 73h1v1h-1zM13 73h2v1h-2zM20 73h4v1h-4zM28 73h1v1h-1zM40 73h1v1h-1zM52 73h1v1h-1zM1 74h1v1h-1zM8 74h1v1h-1zM10 74h1v1h-1zM14 74h1v1h-1zM19 74h3v1h-3zM52 74h1v1h-1zM1 75h1v1h-1zM14 75h1v1h-1zM18 75h1v1h-1zM20 75h1v1h-1zM22 75h1v1h-1zM27 75h1v1h-1zM37 75h1v1h-1zM0 76h2v1h-2zM6 76h1v1h-1zM8 76h1v1h-1zM14 76h1v1h-1zM16 76h1v1h-1zM20 76h1v1h-1zM22 76h2v1h-2zM27 76h1v1h-1zM57 76h1v1h-1zM6 77h1v1h-1zM8 77h1v1h-1zM14 77h1v1h-1zM22 77h1v1h-1zM27 77h1v1h-1zM57 77h1v1h-1zM1 78h1v1h-1zM8 78h1v1h-1zM11 78h1v1h-1zM14 78h1v1h-1zM16 78h1v1h-1zM18 78h1v1h-1zM21 78h1v1h-1zM27 78h1v1h-1zM29 78h1v1h-1zM57 78h1v1h-1zM4 79h1v1h-1zM13 79h4v1h-4zM22 79h1v1h-1zM27 79h1v1h-1zM37 79h1v1h-1zM43 79h1v1h-1zM0 80h1v1h-1zM8 80h1v1h-1zM10 80h1v1h-1zM16 80h1v1h-1zM20 80h1v1h-1zM23 80h1v1h-1zM27 80h1v1h-1zM46 80h1v1h-1zM1 81h1v1h-1zM6 81h1v1h-1zM8 81h1v1h-1zM10 81h1v1h-1zM14 81h1v1h-1zM16 81h1v1h-1zM20 81h1v1h-1zM22 81h2v1h-2zM25 81h1v1h-1zM27 81h1v1h-1zM57 81h1v1h-1zM0 82h2v1h-2zM5 82h1v1h-1zM8 82h1v1h-1zM10 82h1v1h-1zM14 82h1v1h-1zM16 82h1v1h-1zM21 82h2v1h-2zM25 82h1v1h-1zM37 82h1v1h-1zM57 82h1v1h-1zM5 83h1v1h-1zM8 83h1v1h-1zM14 83h1v1h-1zM16 83h1v1h-1zM20 83h2v1h-2zM23 83h1v1h-1zM25 83h1v1h-1zM57 83h1v1h-1zM1 84h1v1h-1zM6 84h1v1h-1zM8 84h1v1h-1zM19 84h1v1h-1zM21 84h2v1h-2zM25 84h1v1h-1zM27 84h1v1h-1zM52 84h1v1h-1zM57 84h1v1h-1zM0 85h1v1h-1zM6 85h1v1h-1zM10 85h1v1h-1zM20 85h1v1h-1zM23 85h1v1h-1zM25 85h1v1h-1zM6 86h1v1h-1zM8 86h1v1h-1zM10 86h1v1h-1zM20 86h1v1h-1zM23 86h1v1h-1zM28 86h1v1h-1zM37 86h1v1h-1zM57 86h1v1h-1zM0 87h1v1h-1zM3 87h1v1h-1zM8 87h1v1h-1zM11 87h1v1h-1zM13 87h2v1h-2zM16 87h1v1h-1zM21 87h1v1h-1zM28 87h1v1h-1zM34 87h1v1h-1zM37 87h1v1h-1zM56 87h2v1h-2zM8 88h1v1h-1zM21 88h1v1h-1zM23 88h1v1h-1zM25 88h1v1h-1zM40 88h1v1h-1zM1 89h1v1h-1zM8 89h1v1h-1zM13 89h1v1h-1zM19 89h2v1h-2zM22 89h1v1h-1zM27 89h2v1h-2zM57 89h1v1h-1zM1 90h1v1h-1zM10 90h1v1h-1zM21 90h2v1h-2zM25 90h1v1h-1zM27 90h2v1h-2zM9 91h1v1h-1zM25 91h1v1h-1zM28 91h1v1h-1zM57 91h1v1h-1zM1 92h1v1h-1zM6 92h1v1h-1zM8 92h1v1h-1zM11 92h1v1h-1zM14 92h1v1h-1zM19 92h2v1h-2zM22 92h1v1h-1zM27 92h1v1h-1zM0 93h1v1h-1zM4 93h1v1h-1zM6 93h1v1h-1zM8 93h1v1h-1zM14 93h1v1h-1zM16 93h1v1h-1zM20 93h1v1h-1zM22 93h1v1h-1zM25 93h1v1h-1zM28 93h1v1h-1zM36 93h1v1h-1zM57 93h1v1h-1zM1 94h1v1h-1zM8 94h1v1h-1zM18 94h1v1h-1zM20 94h1v1h-1zM23 94h1v1h-1zM27 94h1v1h-1zM36 94h1v1h-1zM56 94h2v1h-2zM0 95h1v1h-1zM14 95h1v1h-1zM20 95h1v1h-1zM22 95h1v1h-1zM28 95h1v1h-1zM57 95h1v1h-1zM8 96h1v1h-1zM11 96h1v1h-1zM14 96h1v1h-1zM18 96h1v1h-1zM21 96h1v1h-1zM23 96h1v1h-1zM28 96h1v1h-1zM57 96h1v1h-1zM0 97h1v1h-1zM4 97h1v1h-1zM11 97h1v1h-1zM14 97h1v1h-1zM20 97h1v1h-1zM23 97h1v1h-1zM27 97h1v1h-1zM57 97h1v1h-1zM1 98h1v1h-1zM6 98h1v1h-1zM11 98h1v1h-1zM13 98h1v1h-1zM16 98h1v1h-1zM20 98h1v1h-1zM22 98h1v1h-1zM28 98h1v1h-1zM37 98h1v1h-1zM52 98h1v1h-1zM57 98h1v1h-1zM0 99h1v1h-1zM3 99h1v1h-1zM6 99h1v1h-1zM8 99h1v1h-1zM11 99h1v1h-1zM14 99h1v1h-1zM16 99h1v1h-1zM19 99h1v1h-1zM22 99h1v1h-1zM26 99h1v1h-1zM28 99h1v1h-1zM46 99h1v1h-1zM52 99h1v1h-1zM57 99h1v1h-1z"/>
<path fill="#4e54bc" d="M36 2h1v1h-1zM50 2h1v1h-1zM50 3h1v1h-1zM34 4h1v1h-1zM21 5h1v1h-1zM43 5h1v1h-1zM30 6h1v1h-1zM34 6h1v1h-1zM37 6h1v1h-1zM19 8h1v1h-1zM38 8h1v1h-1zM7 9h1v1h-1zM19 9h1v1h-1zM33 9h1v1h-1zM37 9h1v1h-1zM49 10h1v1h-1zM36 11h1v1h-1zM12 12h1v1h-1zM30 12h1v1h-1zM34 12h1v1h-1zM39 12h1v1h-1zM49 12h2v1h-2zM13 18h1v1h-1zM13 21h1v1h-1zM19 21h1v1h-1zM21 21h1v1h-1zM49 22h1v1h-1zM26 24h1v1h-1zM3 25h1v1h-1zM17 25h1v1h-1zM19 25h1v1h-1zM7 26h2v1h-2zM13 26h1v1h-1zM15 26h1v1h-1zM3 27h1v1h-1zM6 27h2v1h-2zM9 27h1v1h-1zM19 27h1v1h-1zM21 27h1v1h-1zM28 27h1v1h-1zM0 29h2v1h-2zM3 29h1v1h-1zM6 29h2v1h-2zM9 29h2v1h-2zM12 29h1v1h-1zM1 30h1v1h-1zM1 31h1v1h-1zM7 31h1v1h-1zM13 32h1v1h-1zM23 32h1v1h-1zM12 34h1v1h-1zM28 36h1v1h-1zM15 37h1v1h-1zM7 38h1v1h-1zM19 38h1v1h-1zM4 41h1v1h-1zM15 41h1v1h-1zM19 44h1v1h-1zM2 45h2v1h-2zM7 45h1v1h-1zM1 46h1v1h-1zM19 46h1v1h-1zM15 48h1v1h-1zM34 48h2v1h-2zM43 48h1v1h-1zM11 50h1v1h-1zM21 50h1v1h-1zM23 50h1v1h-1zM33 51h1v1h-1zM16 52h1v1h-1zM22 54h1v1h-1zM20 55h2v1h-2zM57 57h1v1h-1zM34 61h1v1h-1zM52 61h1v1h-1zM34 64h1v1h-1zM37 66h1v1h-1zM35 68h1v1h-1zM43 68h1v1h-1zM45 70h1v1h-1zM52 80h1v1h-1zM52 81h1v1h-1zM37 84h1v1h-1zM22 87h1v1h-1zM52 87h1v1h-1zM3 91h1v1h-1zM40 92h1v1h-1zM46 94h1v1h-1zM52 96h1v1h-1zM25 98h1v1h-1z"/>
<path fill="#3e3aa0" d="M4 0h1v1h-1zM18 0h1v1h-1zM22 0h1v1h-1zM24 0h1v1h-1zM29 0h2v1h-2zM32 0h1v1h-1zM34 0h9v1h-9zM44 0h4v1h-4zM49 0h1v1h-1zM51 0h1v1h-1zM53 0h2v1h-2zM56 0h1v1h-1zM30 1h1v1h-1zM45 1h1v1h-1zM47 1h1v1h-1zM30 2h1v1h-1zM42 2h1v1h-1zM45 2h1v1h-1zM47 2h1v1h-1zM41 3h1v1h-1zM47 3h1v1h-1zM37 4h2v1h-2zM49 4h1v1h-1zM52 4h2v1h-2zM45 5h1v1h-1zM47 5h1v1h-1zM50 5h1v1h-1zM38 6h1v1h-1zM36 7h1v1h-1zM44 8h1v1h-1zM47 8h1v1h-1zM41 9h1v1h-1zM45 9h1v1h-1zM30 10h1v1h-1zM39 10h1v1h-1zM0 11h2v1h-2zM4 11h1v1h-1zM29 11h1v1h-1zM34 11h2v1h-2zM41 11h1v1h-1zM44 11h2v1h-2zM47 11h1v1h-1zM49 11h2v1h-2zM52 11h1v1h-1zM41 12h1v1h-1zM30 13h1v1h-1zM38 13h1v1h-1zM41 13h1v1h-1zM47 13h1v1h-1zM49 13h1v1h-1zM30 14h1v1h-1zM41 14h1v1h-1zM45 14h1v1h-1zM47 14h1v1h-1zM51 14h1v1h-1zM55 14h1v1h-1zM30 15h1v1h-1zM36 15h1v1h-1zM41 15h1v1h-1zM45 15h1v1h-1zM47 15h1v1h-1zM30 16h1v1h-1zM41 16h1v1h-1zM45 16h1v1h-1zM47 16h1v1h-1zM30 17h1v1h-1zM41 17h1v1h-1zM47 17h1v1h-1zM30 18h1v1h-1zM41 18h2v1h-2zM45 18h1v1h-1zM49 18h1v1h-1zM32 19h1v1h-1zM34 19h1v1h-1zM37 19h1v1h-1zM50 19h1v1h-1zM52 19h1v1h-1zM54 19h1v1h-1zM41 20h1v1h-1zM47 20h1v1h-1zM30 21h1v1h-1zM41 21h1v1h-1zM44 21h1v1h-1zM47 21h1v1h-1zM41 22h1v1h-1zM47 22h1v1h-1zM52 22h1v1h-1zM41 23h1v1h-1zM45 23h1v1h-1zM47 23h1v1h-1zM52 23h1v1h-1zM36 24h1v1h-1zM41 24h1v1h-1zM45 24h1v1h-1zM47 24h1v1h-1zM51 24h1v1h-1zM54 24h1v1h-1zM29 25h1v1h-1zM36 25h3v1h-3zM41 25h1v1h-1zM47 25h1v1h-1zM51 25h1v1h-1zM54 25h1v1h-1zM1 26h1v1h-1zM30 26h1v1h-1zM34 26h1v1h-1zM36 26h1v1h-1zM44 26h1v1h-1zM46 26h3v1h-3zM50 26h1v1h-1zM53 26h1v1h-1zM55 26h1v1h-1zM0 27h1v1h-1zM30 27h5v1h-5zM36 27h4v1h-4zM41 27h1v1h-1zM44 27h4v1h-4zM54 27h1v1h-1zM56 27h1v1h-1zM30 28h1v1h-1zM41 28h2v1h-2zM45 28h1v1h-1zM47 28h1v1h-1zM20 29h1v1h-1zM22 29h2v1h-2zM30 29h10v1h-10zM41 29h1v1h-1zM44 29h8v1h-8zM53 29h1v1h-1zM55 29h2v1h-2zM30 30h1v1h-1zM34 30h1v1h-1zM41 30h1v1h-1zM45 30h1v1h-1zM47 30h1v1h-1zM54 30h1v1h-1zM9 31h1v1h-1zM30 31h1v1h-1zM34 31h1v1h-1zM37 31h2v1h-2zM41 31h1v1h-1zM45 31h1v1h-1zM48 31h2v1h-2zM51 31h1v1h-1zM54 31h2v1h-2zM19 32h1v1h-1zM21 32h1v1h-1zM36 32h1v1h-1zM42 32h1v1h-1zM45 32h1v1h-1zM47 32h1v1h-1zM49 32h1v1h-1zM30 33h1v1h-1zM41 33h1v1h-1zM45 33h1v1h-1zM47 33h1v1h-1zM51 33h1v1h-1zM41 34h1v1h-1zM49 34h2v1h-2zM54 34h1v1h-1zM34 35h1v1h-1zM36 35h1v1h-1zM30 36h1v1h-1zM41 36h1v1h-1zM51 36h1v1h-1zM54 36h1v1h-1zM41 37h1v1h-1zM57 37h1v1h-1zM41 38h1v1h-1zM44 38h1v1h-1zM47 38h1v1h-1zM54 38h1v1h-1zM34 39h1v1h-1zM41 39h1v1h-1zM52 39h1v1h-1zM41 40h1v1h-1zM44 40h1v1h-1zM55 40h1v1h-1zM34 41h1v1h-1zM51 41h1v1h-1zM30 42h1v1h-1zM42 42h1v1h-1zM45 42h1v1h-1zM47 42h1v1h-1zM45 43h1v1h-1zM47 43h1v1h-1zM30 44h1v1h-1zM41 44h1v1h-1zM45 44h3v1h-3zM12 45h1v1h-1zM15 45h1v1h-1zM29 45h3v1h-3zM33 45h7v1h-7zM42 45h1v1h-1zM45 45h1v1h-1zM47 45h7v1h-7zM55 45h1v1h-1zM30 46h1v1h-1zM36 46h1v1h-1zM41 46h2v1h-2zM44 46h2v1h-2zM54 46h1v1h-1zM41 47h1v1h-1zM45 47h1v1h-1zM47 47h1v1h-1zM9 48h1v1h-1zM36 48h1v1h-1zM39 48h1v1h-1zM41 48h2v1h-2zM45 48h1v1h-1zM47 48h1v1h-1zM45 49h1v1h-1zM47 49h1v1h-1zM5 50h1v1h-1zM16 50h1v1h-1zM18 50h1v1h-1zM27 50h1v1h-1zM4 51h1v1h-1zM11 51h1v1h-1zM11 52h1v1h-1zM18 52h1v1h-1zM25 52h1v1h-1zM5 53h1v1h-1zM5 54h1v1h-1zM18 54h1v1h-1zM18 55h1v1h-1zM5 56h1v1h-1zM11 56h1v1h-1zM18 56h1v1h-1zM21 56h1v1h-1zM25 56h1v1h-1zM34 56h1v1h-1zM57 56h1v1h-1zM1 57h1v1h-1zM11 57h1v1h-1zM16 57h1v1h-1zM25 57h1v1h-1zM27 57h1v1h-1zM5 58h1v1h-1zM11 58h1v1h-1zM22 58h1v1h-1zM28 58h1v1h-1zM5 59h1v1h-1zM10 59h2v1h-2zM16 59h1v1h-1zM18 59h1v1h-1zM27 59h1v1h-1zM5 60h1v1h-1zM11 60h1v1h-1zM16 60h1v1h-1zM18 60h1v1h-1zM5 61h1v1h-1zM11 61h1v1h-1zM16 61h1v1h-1zM18 61h1v1h-1zM57 61h1v1h-1zM5 62h1v1h-1zM18 62h1v1h-1zM25 62h1v1h-1zM11 63h1v1h-1zM18 63h1v1h-1zM27 63h1v1h-1zM11 64h1v1h-1zM18 64h2v1h-2zM22 64h1v1h-1zM27 64h1v1h-1zM11 65h1v1h-1zM18 65h1v1h-1zM18 66h1v1h-1zM21 66h1v1h-1zM40 66h1v1h-1zM52 66h1v1h-1zM1 67h1v1h-1zM4 67h2v1h-2zM25 67h1v1h-1zM40 67h1v1h-1zM1 68h1v1h-1zM4 68h2v1h-2zM11 68h1v1h-1zM18 69h1v1h-1zM25 69h1v1h-1zM34 69h1v1h-1zM5 70h1v1h-1zM11 70h1v1h-1zM14 70h1v1h-1zM20 70h1v1h-1zM25 70h1v1h-1zM1 71h1v1h-1zM5 71h1v1h-1zM11 71h1v1h-1zM16 71h1v1h-1zM18 71h1v1h-1zM25 71h1v1h-1zM52 71h1v1h-1zM57 71h1v1h-1zM11 72h1v1h-1zM16 72h1v1h-1zM18 72h1v1h-1zM25 72h1v1h-1zM5 73h1v1h-1zM11 73h1v1h-1zM16 73h1v1h-1zM18 73h1v1h-1zM25 73h1v1h-1zM5 74h1v1h-1zM11 74h1v1h-1zM16 74h1v1h-1zM18 74h1v1h-1zM25 74h1v1h-1zM5 75h1v1h-1zM11 75h1v1h-1zM25 75h1v1h-1zM5 76h1v1h-1zM11 76h1v1h-1zM18 76h1v1h-1zM25 76h1v1h-1zM1 77h1v1h-1zM11 77h1v1h-1zM18 77h1v1h-1zM25 77h1v1h-1zM5 78h1v1h-1zM25 78h1v1h-1zM1 79h1v1h-1zM5 79h1v1h-1zM8 79h1v1h-1zM11 79h1v1h-1zM18 79h1v1h-1zM20 79h1v1h-1zM25 79h1v1h-1zM5 80h1v1h-1zM11 80h1v1h-1zM18 80h1v1h-1zM25 80h1v1h-1zM5 81h1v1h-1zM11 81h1v1h-1zM18 81h1v1h-1zM11 82h1v1h-1zM18 82h1v1h-1zM11 83h1v1h-1zM18 83h1v1h-1zM5 84h1v1h-1zM11 84h1v1h-1zM16 84h1v1h-1zM18 84h1v1h-1zM5 85h1v1h-1zM11 85h1v1h-1zM16 85h1v1h-1zM18 85h1v1h-1zM5 86h1v1h-1zM11 86h1v1h-1zM18 86h1v1h-1zM1 87h1v1h-1zM5 87h2v1h-2zM10 87h1v1h-1zM18 87h1v1h-1zM20 87h1v1h-1zM5 88h1v1h-1zM11 88h1v1h-1zM16 88h1v1h-1zM18 88h1v1h-1zM5 89h1v1h-1zM11 89h1v1h-1zM16 89h1v1h-1zM18 89h1v1h-1zM25 89h1v1h-1zM5 90h1v1h-1zM11 90h1v1h-1zM5 91h1v1h-1zM16 91h3v1h-3zM39 91h1v1h-1zM5 92h1v1h-1zM18 92h1v1h-1zM5 93h1v1h-1zM11 93h1v1h-1zM18 93h1v1h-1zM5 94h1v1h-1zM11 94h1v1h-1zM13 94h1v1h-1zM21 94h1v1h-1zM28 94h1v1h-1zM5 95h1v1h-1zM11 95h1v1h-1zM5 96h1v1h-1zM16 96h1v1h-1zM5 97h1v1h-1zM10 97h1v1h-1zM16 97h1v1h-1zM18 97h1v1h-1zM5 98h1v1h-1zM10 98h1v1h-1zM18 98h1v1h-1zM5 99h1v1h-1zM10 99h1v1h-1zM18 99h1v1h-1zM21 99h1v1h-1z"/>
<path d="M0 0V100M1 0V100M2 0V100M3 0V100M4 0V100M5 0V100M6 0V100M7 0V100M8 0V100M9 0V100M10 0V100M11 0V100M12 0V100M13 0V100M14 0V100M15 0V100M16 0V100M17 0V100M18 0V100M19 0V100M20 0V100M21 0V100M22 0V100M23 0V100M24 0V100M25 0V100M26 0V100M27 0V100M28 0V100M29 0V100M30 0V100M31 0V100M32 0V100M33 0V100M34 0V100M35 0V100M36 0V100M37 0V100M38 0V100M39 0V100M40 0V100M41 0V100M42 0V100M43 0V100M44 0V100M45 0V100M46 0V100M47 0V100M48 0V100M49 0V100M50 0V100M51 0V100M52 0V100M53 0V100M54 0V100M55 0V100M56 0V100M57 0V100M58 0V100M0 0H58M0 1H58M0 2H58M0 3H58M0 4H58M0 5H58M0 6H58M0 7H58M0 8H58M0 9H58M0 10H58M0 11H58M0 12H58M0 13H58M0 14H58M0 15H58M0 16H58M0 17H58M0 18H58M0 19H58M0 20H58M0 21H58M0 22H58M0 23H58M0 24H58M0 25H58M0 26H58M0 27H58M0 28H58M0 29H58M0 30H58M0 31H58M0 32H58M0 33H58M0 34H58M0 35H58M0 36H58M0 37H58M0 38H58M0 39H58M0 40H58M0 41H58M0 42H58M0 43H58M0 44H58M0 45H58M0 46H58M0 47H58M0 48H58M0 49H58M0 50H58M0 51H58M0 52H58M0 53H58M0 54H58M0 55H58M0 56H58M0 57H58M0 58H58M0 59H58M0 60H58M0 61H58M0 62H58M0 63H58M0 64H58M0 65H58M0 66H58M0 67H58M0 68H58M0 69H58M0 70H58M0 71H58M0 72H58M0 73H58M0 74H58M0 75H58M0 76H58M0 77H58M0 78H58M0 79H58M0 80H58M0 81H58M0 82H58M0 83H58M0 84H58M0 85H58M0 86H58M0 87H58M0 88H58M0 89H58M0 90H58M0 91H58M0 92H58M0 93H58M0 94H58M0 95H58M0 96H58M0 97H58M0 98H58M0 99H58M0 100H58" stroke="#22242c" stroke-opacity=".5" stroke-width="0.8" vector-effect="non-scaling-stroke" fill="none"/>
</g></g>
<path d="M258.39 91.80H309.6M258.39 96.23H309.6M258.39 100.66H309.6M258.39 105.09H309.6M258.39 109.52H309.6M258.39 113.95H309.6M258.39 118.38H309.6M258.39 122.81H309.6M258.39 127.24H309.6M258.39 131.67H309.6M258.39 136.10H309.6M258.39 140.53H309.6M258.39 144.96H309.6M258.39 149.39H309.6M258.39 153.82H309.6M258.39 158.25H309.6M258.39 162.68H309.6M258.39 167.11H309.6M258.39 171.54H309.6M258.39 175.97H309.6M258.39 180.40H309.6M258.39 184.83H309.6M258.39 189.26H309.6M258.39 193.69H309.6M258.39 198.12H309.6M258.39 202.55H309.6M258.39 206.98H309.6M258.39 211.41H309.6M258.39 215.84H309.6M258.39 220.27H309.6M258.39 224.70H309.6M258.39 229.13H309.6M258.39 233.56H309.6M258.39 237.99H309.6M258.39 242.42H309.6M258.39 246.85H309.6M258.39 251.28H309.6M258.39 255.71H309.6M258.39 260.14H309.6M258.39 264.57H309.6M258.39 269.00H309.6M258.39 273.43H309.6M258.39 277.86H309.6M258.39 282.29H309.6M258.39 286.72H309.6M258.39 291.15H309.6M258.39 295.58H309.6M258.39 300.01H309.6M258.39 304.44H309.6M258.39 308.87H309.6M258.39 313.30H309.6M258.39 317.73H309.6M258.39 322.16H309.6M258.39 326.59H309.6M258.39 331.02H309.6M258.39 335.45H309.6M258.39 339.88H309.6M258.39 344.31H309.6M258.39 348.74H309.6M258.39 353.17H309.6M258.39 357.60H309.6M258.39 362.03H309.6M258.39 366.46H309.6M258.39 370.89H309.6M258.39 375.32H309.6M258.39 379.75H309.6M258.39 384.18H309.6M258.39 388.61H309.6M258.39 393.04H309.6M258.39 397.47H309.6M258.39 401.90H309.6M258.39 406.33H309.6M258.39 410.76H309.6M258.39 415.19H309.6M258.39 419.62H309.6M258.39 424.05H309.6M258.39 428.48H309.6M258.39 432.91H309.6M258.39 437.34H309.6M258.39 441.77H309.6M258.39 446.20H309.6M258.39 450.63H309.6M258.39 455.06H309.6M258.39 459.49H309.6M258.39 463.92H309.6M258.39 468.35H309.6M258.39 472.78H309.6M258.39 477.21H309.6M258.39 481.64H309.6M258.39 486.07H309.6M258.39 490.50H309.6M258.39 494.93H309.6M258.39 499.36H309.6M258.39 503.79H309.6M258.39 508.22H309.6M258.39 512.65H309.6M258.39 517.08H309.6M258.39 521.51H309.6M258.39 525.94H309.6M258.39 530.37H309.6M258.39 534.80H309.6" stroke="#707070" stroke-width=".8" fill="none"/>
<g transform="translate(261.6 0) scale(0.8 1)" font-family="Liberation Serif, serif" font-size="4.2" fill="#262626" stroke="#262626" stroke-width=".1"><text x="0" y="95.78">RCBCT</text><text x="0" y="100.21">PRR11</text><text x="0" y="104.64">CASC5</text><text x="0" y="109.07">ARHGAP11B</text><text x="0" y="113.50">KIF18A</text><text x="0" y="117.93">MASTL</text><text x="0" y="122.36">KIF14</text><text x="0" y="126.79">LOC728143</text><text x="0" y="131.22">TMPO</text><text x="0" y="135.65">TRIM59</text><text x="0" y="140.08">CENPF</text><text x="0" y="144.51">SGO2</text><text x="0" y="148.94">KIF23</text><text x="0" y="153.37">BUB1</text><text x="0" y="157.80">TTK</text><text x="0" y="162.23">KIF20B</text><text x="0" y="166.66">CDCA2</text><text x="0" y="171.09">NCAPG</text><text x="0" y="175.52">DEPDC1</text><text x="0" y="179.95">ZNF280C</text><text x="0" y="184.38">CENPE</text><text x="0" y="188.81">ASPM</text><text x="0" y="193.24">ZNF367</text><text x="0" y="197.67">HMMR</text><text x="0" y="202.10">CKAP2L</text><text x="0" y="206.53">CDC6B</text><text x="0" y="210.96">FBXO5</text><text x="0" y="215.39">NUF2</text><text x="0" y="219.82">ZNF354C</text><text x="0" y="224.25">LOC728752</text><text x="0" y="228.68">ZNF367</text><text x="0" y="233.11">BUB1B</text><text x="0" y="237.54">CCNA2</text><text x="0" y="241.97">ZNF625</text><text x="0" y="246.40">POLQ</text><text x="0" y="250.83">ZNF695</text><text x="0" y="255.26">KNTC1</text><text x="0" y="259.69">SMC4</text><text x="0" y="264.12">CEP55</text><text x="0" y="268.55">ESCO2</text><text x="0" y="272.98">KIF15</text><text x="0" y="277.41">FAM83D</text><text x="0" y="281.84">TOP2A</text><text x="0" y="286.27">NDC80</text><text x="0" y="290.70">CCNB1</text><text x="0" y="295.13">NCAPH</text><text x="0" y="299.56">FANCI</text><text x="0" y="303.99">DLGAP5</text><text x="0" y="308.42">SHCBP1</text><text x="0" y="312.85">KIAA0101</text><text x="0" y="317.28">FAM3B</text><text x="0" y="321.71">PIGR</text><text x="0" y="326.14">TMEM139</text><text x="0" y="330.57">CDH17</text><text x="0" y="335.00">GUCY2C</text><text x="0" y="339.43">TSPAN8</text><text x="0" y="343.86">FCGBP</text><text x="0" y="348.29">MUC2</text><text x="0" y="352.72">CLCA1</text><text x="0" y="357.15">ZG16</text><text x="0" y="361.58">AGR2</text><text x="0" y="366.01">SPINK4</text><text x="0" y="370.44">REG4</text><text x="0" y="374.87">LGALS4</text><text x="0" y="379.30">CEACAM5</text><text x="0" y="383.73">PHGR1</text><text x="0" y="388.16">FABP1</text><text x="0" y="392.59">CDX2</text><text x="0" y="397.02">VIL1</text><text x="0" y="401.45">KRT20</text><text x="0" y="405.88">CA2</text><text x="0" y="410.31">SLC26A3</text><text x="0" y="414.74">GPA33</text><text x="0" y="419.17">CDHR5</text><text x="0" y="423.60">MEP1A</text><text x="0" y="428.03">TFF3</text><text x="0" y="432.46">ITLN1</text><text x="0" y="436.89">BEST2</text><text x="0" y="441.32">CLDN8</text><text x="0" y="445.75">AQP8</text><text x="0" y="450.18">HLA-DRA</text><text x="0" y="454.61">CD74</text><text x="0" y="459.04">HLA-DPA1</text><text x="0" y="463.47">HLA-DPB1</text><text x="0" y="467.90">CIITA</text><text x="0" y="472.33">B2M</text><text x="0" y="476.76">TAP1</text><text x="0" y="481.19">PSMB9</text><text x="0" y="485.62">CXCL9</text><text x="0" y="490.05">GBP1</text><text x="0" y="494.48">KIT7</text><text x="0" y="498.91">LOC100271832</text><text x="0" y="503.34">RRRP</text><text x="0" y="507.77">BCE1</text><text x="0" y="512.20">SLA-SRP7</text><text x="0" y="516.63">FMAS</text><text x="0" y="521.06">ATLR1B</text><text x="0" y="525.49">PCE1</text><text x="0" y="529.92">TNFRSF17</text><text x="0" y="534.35">PCSK7</text></g>
<text x="262.3" y="87.2" font-family="Liberation Serif, serif" font-size="5.3" fill="#444">SampleName</text>
<g clip-path="url(#cl1)"><path d="M276 138.31H289" stroke="#444" stroke-width=".9"/><text x="290" y="140.91" font-family="Liberation Sans, sans-serif" font-weight="bold" font-size="7.3" fill="#222">CENPF</text></g>
<path d="M277.4 218.05H289" stroke="#444" stroke-width=".9"/><text x="290" y="220.65" font-family="Liberation Sans, sans-serif" font-weight="bold" font-size="7.3" fill="#222">ZNF354C</text>
<path d="M277.4 240.21H289.9" stroke="#444" stroke-width=".9"/><text x="290.9" y="242.81" font-family="Liberation Sans, sans-serif" font-weight="bold" font-size="7.3" fill="#222">ZNF625</text>
<path d="M277.4 249.06H289.9" stroke="#444" stroke-width=".9"/><text x="290.9" y="251.66" font-family="Liberation Sans, sans-serif" font-weight="bold" font-size="7.3" fill="#222">ZNF695</text>
<text x="333" y="23.9" font-family="Liberation Sans, sans-serif" font-weight="bold" font-size="13.8" fill="#222">A</text>
<path d="M341.3 47.4H520.9M428 57.8H520.9M341.3 68.4H520.9" stroke="#444" stroke-width=".9"/>
<path d="M341.3 110.2H520.9" stroke="#444" stroke-width="1.2"/>
<text x="474.5" y="55.0" font-family="Liberation Sans, sans-serif" font-size="8.4" fill="#333" text-anchor="middle">CENPF expression</text>
<text x="385" y="60.7" font-family="Liberation Sans, sans-serif" font-size="8.4" fill="#333" text-anchor="middle"><tspan font-style="italic">p</tspan>  value</text>
<text x="451" y="66.3" font-family="Liberation Sans, sans-serif" font-size="8.4" fill="#333" text-anchor="middle">Upper 50%</text>
<text x="499.5" y="66.3" font-family="Liberation Sans, sans-serif" font-size="8.4" fill="#333" text-anchor="middle">Lower 50%</text>
<text x="388" y="76.8" font-family="Liberation Sans, sans-serif" font-size="8.4" fill="#333" text-anchor="middle">176 gene sets</text>
<text x="448.7" y="76.8" font-family="Liberation Sans, sans-serif" font-size="8.4" fill="#333" text-anchor="middle">83</text>
<text x="496.2" y="76.8" font-family="Liberation Sans, sans-serif" font-size="8.4" fill="#333" text-anchor="middle">93</text>
<text x="388" y="87.2" font-family="Liberation Sans, sans-serif" font-size="8.4" fill="#333" text-anchor="middle">FDR &lt; 25%</text>
<text x="448.7" y="87.2" font-family="Liberation Sans, sans-serif" font-size="8.4" fill="#333" text-anchor="middle">11</text>
<text x="496.2" y="87.2" font-family="Liberation Sans, sans-serif" font-size="8.4" fill="#333" text-anchor="middle">57</text>
<text x="388" y="97.9" font-family="Liberation Sans, sans-serif" font-size="8.4" fill="#333" text-anchor="middle">nominal <tspan font-style="italic">p</tspan> value &lt; 1%</text>
<text x="448.7" y="97.9" font-family="Liberation Sans, sans-serif" font-size="8.4" fill="#333" text-anchor="middle">7</text>
<text x="496.2" y="97.9" font-family="Liberation Sans, sans-serif" font-size="8.4" fill="#333" text-anchor="middle">35</text>
<text x="388" y="108.1" font-family="Liberation Sans, sans-serif" font-size="8.4" fill="#333" text-anchor="middle">nominal <tspan font-style="italic">p</tspan> value &lt; 5%</text>
<text x="448.7" y="108.1" font-family="Liberation Sans, sans-serif" font-size="8.4" fill="#333" text-anchor="middle">12</text>
<text x="496.2" y="108.1" font-family="Liberation Sans, sans-serif" font-size="8.4" fill="#333" text-anchor="middle">47</text>
<text x="335" y="148.4" font-family="Liberation Sans, sans-serif" font-weight="bold" font-size="13.8" fill="#222">C</text>
<rect x="344.3" y="154" width="174.1" height="174.0" fill="#eceeed"/>
<rect x="364.2" y="164.8" width="151.4" height="137.8" fill="#fff"/>
<text x="431.3" y="160.7" font-family="Liberation Sans, sans-serif" font-weight="bold" font-size="6.3" fill="#222" text-anchor="middle">Enrichment plot: KEGG_CELL_CYCLE</text>
<path d="M399.4 164.8V229.4M399.4 257.9V302.6M434.4 164.8V229.4M434.4 257.9V302.6M469.4 164.8V229.4M469.4 257.9V302.6M504.4 164.8V229.4M504.4 257.9V302.6M364.2 227.0H515.6M364.2 215.4H515.6M364.2 203.8H515.6M364.2 192.3H515.6M364.2 180.7H515.6M364.2 169.1H515.6M364.2 259.5H515.6M364.2 269.9H515.6M364.2 279.7H515.6M364.2 290.1H515.6M364.2 300.6H515.6" stroke="#ebebeb" stroke-width=".5" fill="none"/>
<g font-family="Liberation Sans, sans-serif" font-size="4.2" fill="#555" text-anchor="end"><text x="362.2" y="228.5">0.0</text><text x="362.2" y="216.9">0.1</text><text x="362.2" y="205.3">0.2</text><text x="362.2" y="193.8">0.3</text><text x="362.2" y="182.2">0.4</text><text x="362.2" y="170.6">0.5</text><text x="362.2" y="261.0">1.0</text><text x="362.2" y="271.4">0.5</text><text x="362.2" y="281.2">0.0</text><text x="362.2" y="291.6">-0.5</text><text x="362.2" y="302.1">-1.0</text></g>
<text transform="translate(353.3 197.9) rotate(-90)" font-family="Liberation Sans, sans-serif" font-size="5.4" fill="#4a4a4a" text-anchor="middle">Enrichment score (ES)</text>
<text transform="translate(352.3 280.4) rotate(-90)" font-family="Liberation Sans, sans-serif" font-size="4.4" fill="#4a4a4a" text-anchor="middle">Ranked list metric (Signal2Noise)</text>
<path d="M364.2 229.4H515.6M364.2 258.2H515.6" stroke="#c8c8c8" stroke-width=".5"/>
<rect x="363.9" y="230.4" width="2.6" height="22.7" fill="#999"/><rect x="368.0" y="230.4" width="1.8" height="22.7" fill="#888"/><rect x="371.7" y="230.4" width="1.5" height="22.7" fill="#909090"/><rect x="375.0" y="230.4" width="2.2" height="22.7" fill="#999"/><rect x="377.2" y="230.4" width="2.1" height="22.7" fill="#777"/><rect x="381.4" y="230.4" width="2.2" height="22.7" fill="#8a8a8a"/><rect x="383.6" y="230.4" width="1.5" height="22.7" fill="#ccc"/><rect x="386.6" y="230.4" width="4.9" height="22.7" fill="#5e5e5e"/><rect x="391.5" y="230.4" width="1.8" height="22.7" fill="#222"/><rect x="393.3" y="230.4" width="1.5" height="22.7" fill="#ccc"/><rect x="394.8" y="230.4" width="4.5" height="22.7" fill="#aaa"/><rect x="399.3" y="230.4" width="3.3" height="22.7" fill="#999"/><rect x="404.1" y="230.4" width="1.5" height="22.7" fill="#888"/><rect x="405.6" y="230.4" width="1.1" height="22.7" fill="#ccc"/><rect x="406.7" y="230.4" width="1.9" height="22.7" fill="#999"/><rect x="410.1" y="230.4" width="3.7" height="22.7" fill="#aaa"/><rect x="413.8" y="230.4" width="1.1" height="22.7" fill="#888"/><rect x="416.8" y="230.4" width="1.5" height="22.7" fill="#888"/><rect x="420.5" y="230.4" width="1.9" height="22.7" fill="#555"/><rect x="422.4" y="230.4" width="3.0" height="22.7" fill="#888"/><rect x="425.4" y="230.4" width="4.5" height="22.7" fill="#aaa"/><rect x="429.9" y="230.4" width="1.8" height="22.7" fill="#999"/><rect x="433.2" y="230.4" width="1.9" height="22.7" fill="#aaa"/><rect x="436.6" y="230.4" width="1.4" height="22.7" fill="#999"/><rect x="438.0" y="230.4" width="4.5" height="22.7" fill="#a5a5a5"/><rect x="450.3" y="230.4" width="1.9" height="22.7" fill="#333"/><rect x="454.0" y="230.4" width="1.2" height="22.7" fill="#888"/><rect x="456.3" y="230.4" width="1.1" height="22.7" fill="#999"/><rect x="458.9" y="230.4" width="1.1" height="22.7" fill="#555"/><rect x="460.0" y="230.4" width="2.6" height="22.7" fill="#bbb"/><rect x="462.6" y="230.4" width="1.5" height="22.7" fill="#222"/><rect x="464.1" y="230.4" width="3.8" height="22.7" fill="#aaa"/><rect x="473.8" y="230.4" width="3.7" height="22.7" fill="#aaa"/><rect x="479.7" y="230.4" width="1.5" height="22.7" fill="#888"/><rect x="483.8" y="230.4" width="1.2" height="22.7" fill="#aaa"/><rect x="485.0" y="230.4" width="2.5" height="22.7" fill="#999"/><rect x="487.5" y="230.4" width="1.2" height="22.7" fill="#aaa"/><rect x="493.9" y="230.4" width="1.4" height="22.7" fill="#777"/><rect x="498.4" y="230.4" width="1.5" height="22.7" fill="#888"/>
<defs><linearGradient id="cbC"><stop offset="0" stop-color="#de3646"/><stop offset="0.43" stop-color="#f07080"/><stop offset="0.432" stop-color="#eaa0cc"/><stop offset="0.588" stop-color="#e8acd6"/><stop offset="0.59" stop-color="#c6c6ee"/><stop offset="0.796" stop-color="#b4b4e8"/><stop offset="0.798" stop-color="#6c6cd0"/><stop offset="1" stop-color="#3434a6"/></linearGradient></defs>
<rect x="364.4" y="253.1" width="143.7" height="4.8" fill="url(#cbC)"/>
<path d="M364.4 279.7 L364.4 266.0 L365.5 267.9 L368.5 270.3 L374.0 272.6 L384.4 274.8 L395.0 276.0 L406.8 277.0 L418.0 277.7 L429.1 278.5 L444.4 279.7 L460.0 280.5 L472.0 281.3 L482.5 282.2 L490.0 283.2 L496.6 284.8 L500.9 286.8 L503.8 289.5 L505.9 292.4 L507.4 296.4 L508.1 298.3 L508.1 279.7Z" fill="#b4b4b4"/>
<rect x="364.2" y="164.8" width="151.4" height="137.8" fill="none" stroke="#a9a9a9" stroke-width=".6"/>
<text x="366.4" y="262.1" font-family="Liberation Sans, sans-serif" font-size="3.6" fill="#e03040">UpperDFN (positively correlated)</text>
<text x="444.4" y="281.1" font-family="Liberation Sans, sans-serif" font-size="3.6" fill="#555" text-anchor="middle">Zero cross at 11480</text>
<text x="496.1" y="300.6" font-family="Liberation Sans, sans-serif" font-size="3.6" fill="#3838b0" text-anchor="end">LowerDFN (negatively correlated)</text>
<g font-family="Liberation Sans, sans-serif" font-size="4.2" fill="#555" text-anchor="middle"><text x="364.4" y="308.3">0</text><text x="399.4" y="308.3">5,000</text><text x="434.4" y="308.3">10,000</text><text x="469.4" y="308.3">15,000</text><text x="504.4" y="308.3">20,000</text></g>
<text x="439.9" y="314.6" font-family="Liberation Sans, sans-serif" font-size="4.3" fill="#333" text-anchor="middle">Rank in Ordered Dataset</text>
<path d="M364.5 227.6 L365.2 219.0 L365.7 214.0 L366.7 212.7 L367.6 213.4 L368.8 207.8 L370.0 206.0 L371.3 206.6 L372.5 199.1 L374.4 197.9 L376.9 196.0 L378.7 194.8 L380.0 191.7 L381.8 191.1 L383.0 188.0 L384.9 187.4 L386.8 188.6 L388.0 184.3 L389.2 180.6 L391.1 177.5 L392.3 173.8 L393.6 168.8 L396.7 168.2 L400.0 168.3 L402.8 168.8 L404.7 170.0 L405.9 169.4 L409.0 170.2 L412.0 171.3 L420.0 173.0 L429.3 177.6 L434.0 179.6 L438.7 182.3 L443.0 185.5 L448.0 189.8 L452.0 192.6 L457.3 196.3 L462.9 200.0 L466.6 201.0 L470.4 202.8 L473.0 205.2 L476.0 207.5 L480.0 209.6 L485.3 213.1 L489.0 214.4 L492.0 216.8 L494.6 218.3 L498.4 219.6 L500.2 221.5 L502.0 221.8 L504.0 223.6 L506.0 225.2 L508.6 227.2" fill="none" stroke="#62be40" stroke-width="1.5" stroke-linejoin="round"/>
<g font-family="Liberation Sans, sans-serif" font-size="6.5" fill="#1a1a1a" stroke="#1a1a1a" stroke-width=".18"><text x="390.8" y="210.8">NES=1.68</text><text x="390.8" y="218.6">NOM <tspan font-style="italic">p</tspan>-val&lt;0.0001</text><text x="390.8" y="226.2">FDR q-val=0.039</text></g>
<rect x="371.3" y="318.5" width="120.1" height="8.8" fill="#fff" stroke="#888" stroke-width=".6"/>
<path d="M372.5 322.9H377.1" stroke="#5cbb3c" stroke-width=".9"/>
<path d="M415.7 322.9H420.2" stroke="#777" stroke-width=".7"/>
<path d="M440.4 322.9H444.1" stroke="#aaa" stroke-width=".6" stroke-dasharray=".6 .6"/>
<g font-family="Liberation Sans, sans-serif" font-size="4.25" fill="#222"><text x="379.2" y="324.4">Enrichment profile</text><text x="421.7" y="324.4">Hits</text><text x="446.6" y="324.4">Ranking metric scores</text></g>
<text x="334" y="364.6" font-family="Liberation Sans, sans-serif" font-weight="bold" font-size="13.8" fill="#222">D</text>
<rect x="344" y="368.3" width="168.0" height="164.1" fill="#eceeed"/>
<rect x="364.2" y="387.8" width="145.3" height="120.2" fill="#fff"/>
<text x="428" y="374.8" font-family="Liberation Sans, sans-serif" font-weight="bold" font-size="6.3" fill="#222" text-anchor="middle">Enrichment plot:</text>
<text x="428" y="383.0" font-family="Liberation Sans, sans-serif" font-weight="bold" font-size="6.08" fill="#222" text-anchor="middle">KEGG_ANTIGEN_PROCESSING_AND_PRESENTATION</text>
<path d="M397.6 387.8V443.8M397.6 469.3V508.0M430.9 387.8V443.8M430.9 469.3V508.0M464.1 387.8V443.8M464.1 469.3V508.0M497.4 387.8V443.8M497.4 469.3V508.0M364.2 389.8H509.5M364.2 397.3H509.5M364.2 404.8H509.5M364.2 412.3H509.5M364.2 419.8H509.5M364.2 427.3H509.5M364.2 434.8H509.5M364.2 442.3H509.5M364.2 470.4H509.5M364.2 479.4H509.5M364.2 488.4H509.5M364.2 497.4H509.5M364.2 506.6H509.5" stroke="#ebebeb" stroke-width=".5" fill="none"/>
<g font-family="Liberation Sans, sans-serif" font-size="4.2" fill="#555" text-anchor="end"><text x="362.2" y="391.3">0.0</text><text x="362.2" y="398.8">-0.1</text><text x="362.2" y="406.3">-0.2</text><text x="362.2" y="413.8">-0.3</text><text x="362.2" y="421.3">-0.4</text><text x="362.2" y="428.8">-0.5</text><text x="362.2" y="436.3">-0.6</text><text x="362.2" y="443.8">-0.7</text><text x="362.2" y="471.9">1.0</text><text x="362.2" y="480.9">0.5</text><text x="362.2" y="489.9">0.0</text><text x="362.2" y="498.9">-0.5</text><text x="362.2" y="508.1">-1.0</text></g>
<text transform="translate(353.3 416.6) rotate(-90)" font-family="Liberation Sans, sans-serif" font-size="5.4" fill="#4a4a4a" text-anchor="middle">Enrichment score (ES)</text>
<text transform="translate(352.3 488.8) rotate(-90)" font-family="Liberation Sans, sans-serif" font-size="4.4" fill="#4a4a4a" text-anchor="middle">Ranked list metric (Signal2Noise)</text>
<path d="M364.2 443.8H509.5M364.2 469.6H509.5" stroke="#c8c8c8" stroke-width=".5"/>
<rect x="376.9" y="444.8" width="1.1" height="19.7" fill="#777"/><rect x="382.3" y="444.8" width="0.8" height="19.7" fill="#999"/><rect x="387.0" y="444.8" width="1.1" height="19.7" fill="#888"/><rect x="391.9" y="444.8" width="1.4" height="19.7" fill="#aaa"/><rect x="397.8" y="444.8" width="1.5" height="19.7" fill="#999"/><rect x="400.7" y="444.8" width="1.9" height="19.7" fill="#555"/><rect x="406.0" y="444.8" width="1.8" height="19.7" fill="#888"/><rect x="412.3" y="444.8" width="1.5" height="19.7" fill="#555"/><rect x="415.7" y="444.8" width="2.2" height="19.7" fill="#999"/><rect x="423.9" y="444.8" width="1.5" height="19.7" fill="#999"/><rect x="426.9" y="444.8" width="1.5" height="19.7" fill="#888"/><rect x="428.4" y="444.8" width="1.5" height="19.7" fill="#777"/><rect x="429.9" y="444.8" width="1.3" height="19.7" fill="#999"/><rect x="431.7" y="444.8" width="1.5" height="19.7" fill="#666"/><rect x="443.2" y="444.8" width="1.3" height="19.7" fill="#999"/><rect x="444.5" y="444.8" width="1.5" height="19.7" fill="#666"/><rect x="446.0" y="444.8" width="1.7" height="19.7" fill="#999"/><rect x="450.3" y="444.8" width="2.6" height="19.7" fill="#aaa"/><rect x="452.9" y="444.8" width="2.6" height="19.7" fill="#bbb"/><rect x="456.7" y="444.8" width="1.4" height="19.7" fill="#555"/><rect x="458.1" y="444.8" width="1.9" height="19.7" fill="#888"/><rect x="461.1" y="444.8" width="1.5" height="19.7" fill="#aaa"/><rect x="464.9" y="444.8" width="1.1" height="19.7" fill="#777"/><rect x="476.0" y="444.8" width="2.1" height="19.7" fill="#666"/><rect x="480.7" y="444.8" width="1.5" height="19.7" fill="#888"/><rect x="482.6" y="444.8" width="2.2" height="19.7" fill="#999"/><rect x="486.3" y="444.8" width="1.9" height="19.7" fill="#444"/><rect x="490.0" y="444.8" width="4.1" height="19.7" fill="#888"/><rect x="494.9" y="444.8" width="2.6" height="19.7" fill="#999"/><rect x="497.9" y="444.8" width="4.1" height="19.7" fill="#333"/>
<defs><linearGradient id="cbD"><stop offset="0" stop-color="#de3646"/><stop offset="0.433" stop-color="#f07080"/><stop offset="0.435" stop-color="#eaa0cc"/><stop offset="0.583" stop-color="#e8acd6"/><stop offset="0.585" stop-color="#c6c6ee"/><stop offset="0.794" stop-color="#b4b4e8"/><stop offset="0.796" stop-color="#6c6cd0"/><stop offset="1" stop-color="#3434a6"/></linearGradient></defs>
<rect x="364.4" y="464.5" width="138.3" height="4.8" fill="url(#cbD)"/>
<path d="M364.4 488.4 L364.4 475.8 L365.5 477.6 L368.3 479.8 L373.7 481.9 L383.6 483.9 L393.9 485.0 L405.2 485.9 L416.0 486.6 L426.6 487.3 L441.4 488.4 L456.4 489.1 L468.0 489.8 L478.1 490.7 L485.3 491.6 L491.6 493.1 L495.8 494.9 L498.6 497.4 L500.6 500.1 L502.0 503.7 L502.7 505.5 L502.7 488.4Z" fill="#b4b4b4"/>
<rect x="364.2" y="387.8" width="145.3" height="120.2" fill="none" stroke="#a9a9a9" stroke-width=".6"/>
<text x="366.4" y="473.0" font-family="Liberation Sans, sans-serif" font-size="3.6" fill="#e03040">UpperDFN (positively correlated)</text>
<text x="440.8" y="489.8" font-family="Liberation Sans, sans-serif" font-size="3.6" fill="#555" text-anchor="middle">Zero cross at 11480</text>
<text x="490.7" y="506.6" font-family="Liberation Sans, sans-serif" font-size="3.6" fill="#3838b0" text-anchor="end">LowerDFN (negatively correlated)</text>
<g font-family="Liberation Sans, sans-serif" font-size="4.2" fill="#555" text-anchor="middle"><text x="364.4" y="513.4">0</text><text x="397.6" y="513.4">5,000</text><text x="430.9" y="513.4">10,000</text><text x="464.1" y="513.4">15,000</text><text x="497.4" y="513.4">20,000</text></g>
<text x="436.9" y="520.3" font-family="Liberation Sans, sans-serif" font-size="4.3" fill="#333" text-anchor="middle">Rank in Ordered Dataset</text>
<path d="M364.4 389.8 L370.0 392.5 L375.0 395.0 L378.5 396.3 L385.0 399.0 L392.0 402.0 L399.0 405.0 L406.0 408.5 L413.0 411.5 L420.0 414.2 L425.0 416.0 L431.2 418.2 L440.0 422.0 L448.0 425.5 L457.3 429.5 L465.0 433.5 L470.0 436.5 L476.0 439.9 L481.6 441.2 L487.2 441.5 L489.0 441.2 L490.9 440.2 L492.5 438.5 L494.6 436.5 L496.5 434.0 L497.4 431.8 L498.3 426.0 L499.3 416.0 L500.3 408.0 L501.2 401.0 L502.5 389.5" fill="none" stroke="#62be40" stroke-width="1.5" stroke-linejoin="round"/>
<g font-family="Liberation Sans, sans-serif" font-size="6.5" fill="#1a1a1a" stroke="#1a1a1a" stroke-width=".18"><text x="389.7" y="424">NES=−2.94</text><text x="389.7" y="431.8">NOM <tspan font-style="italic">p</tspan>-val&lt;0.0001</text><text x="389.7" y="439.4">FDR q-val&lt;0.0001</text></g>
<rect x="370.3" y="523.8" width="116.1" height="8.8" fill="#fff" stroke="#888" stroke-width=".6"/>
<path d="M371.5 528.1999999999999H376.1" stroke="#5cbb3c" stroke-width=".9"/>
<path d="M414.7 528.1999999999999H419.2" stroke="#777" stroke-width=".7"/>
<path d="M439.4 528.1999999999999H443.1" stroke="#aaa" stroke-width=".6" stroke-dasharray=".6 .6"/>
<g font-family="Liberation Sans, sans-serif" font-size="4.25" fill="#222"><text x="378.2" y="529.7">Enrichment profile</text><text x="420.7" y="529.7">Hits</text><text x="445.6" y="529.7">Ranking metric scores</text></g>
</g></svg>
</body></html>
